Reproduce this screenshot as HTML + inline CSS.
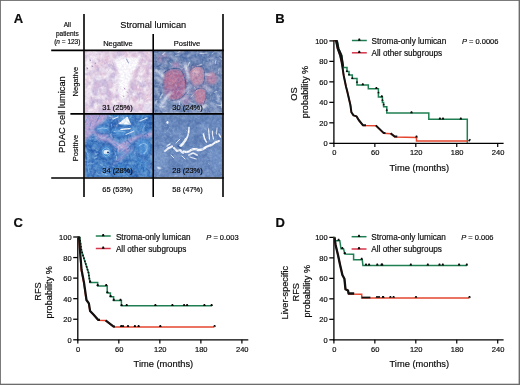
<!DOCTYPE html>
<html lang="en"><head><meta charset="utf-8"><title>Figure</title>
<style>
html,body{margin:0;padding:0;background:#fff;}
body{width:520px;height:385px;overflow:hidden;}
svg{display:block;font-family:'Liberation Sans', Arial, Helvetica, sans-serif;fill:#111;}
svg text{fill:#0c0c0c;stroke:#0c0c0c;stroke-width:0.18px;}
</style></head><body>
<svg width="520" height="385" viewBox="0 0 520 385">
<rect x="0" y="0" width="520" height="385" fill="#fff"/>
<text x="13.8" y="23" font-size="13" text-anchor="start" font-weight="bold" font-style="normal" stroke="#111" stroke-width="0.5">A</text>
<text x="275.3" y="23" font-size="13" text-anchor="start" font-weight="bold" font-style="normal" stroke="#111" stroke-width="0.5">B</text>
<text x="13.6" y="226.7" font-size="13" text-anchor="start" font-weight="bold" font-style="normal" stroke="#111" stroke-width="0.5">C</text>
<text x="275.4" y="226.7" font-size="13" text-anchor="start" font-weight="bold" font-style="normal" stroke="#111" stroke-width="0.5">D</text>
<defs>
<filter id="bl1" x="-30%" y="-30%" width="160%" height="160%"><feGaussianBlur stdDeviation="1.5"/></filter>
<filter id="bl2" x="-30%" y="-30%" width="160%" height="160%"><feGaussianBlur stdDeviation="0.8"/></filter>
<filter id="bl3" x="-30%" y="-30%" width="160%" height="160%"><feGaussianBlur stdDeviation="0.45"/></filter>
<filter id="gr1" x="0" y="0" width="100%" height="100%" color-interpolation-filters="sRGB">
<feTurbulence type="fractalNoise" baseFrequency="0.45" numOctaves="2" seed="7" result="n"/>
<feColorMatrix in="n" type="matrix" values="0 0 0 0 0  0 0 0 0 0  0 0 0 0 0  1.5 0 0 0 -0.55" result="a"/><feComposite in="SourceGraphic" in2="a" operator="in"/>
</filter>
<filter id="gr2" x="0" y="0" width="100%" height="100%" color-interpolation-filters="sRGB">
<feTurbulence type="fractalNoise" baseFrequency="0.4" numOctaves="2" seed="21" result="n"/>
<feColorMatrix in="n" type="matrix" values="0 0 0 0 0  0 0 0 0 0  0 0 0 0 0  0 1.5 0 0 -0.55" result="a"/><feComposite in="SourceGraphic" in2="a" operator="in"/>
</filter>
<filter id="lo1" x="0" y="0" width="100%" height="100%" color-interpolation-filters="sRGB">
<feTurbulence type="fractalNoise" baseFrequency="0.11" numOctaves="2" seed="3" result="n"/>
<feColorMatrix in="n" type="matrix" values="0 0 0 0 0  0 0 0 0 0  0 0 0 0 0  3.2 0 0 0 -1.35" result="a"/><feComposite in="SourceGraphic" in2="a" operator="in"/>
</filter>
<filter id="lo2" x="0" y="0" width="100%" height="100%" color-interpolation-filters="sRGB">
<feTurbulence type="fractalNoise" baseFrequency="0.13" numOctaves="2" seed="17" result="n"/>
<feColorMatrix in="n" type="matrix" values="0 0 0 0 0  0 0 0 0 0  0 0 0 0 0  0 3.2 0 0 -1.35" result="a"/><feComposite in="SourceGraphic" in2="a" operator="in"/>
</filter>
<filter id="lo3" x="0" y="0" width="100%" height="100%" color-interpolation-filters="sRGB">
<feTurbulence type="fractalNoise" baseFrequency="0.16" numOctaves="2" seed="29" result="n"/>
<feColorMatrix in="n" type="matrix" values="0 0 0 0 0  0 0 0 0 0  0 0 0 0 0  0 0 3.4 0 -1.45" result="a"/><feComposite in="SourceGraphic" in2="a" operator="in"/>
</filter>
<clipPath id="c1"><rect x="84.6" y="51" width="68.2" height="61.8"/></clipPath>
<clipPath id="c2"><rect x="153.6" y="51" width="68.8" height="61.8"/></clipPath>
<clipPath id="c3"><rect x="84.6" y="114" width="68.2" height="63.3"/></clipPath>
<clipPath id="c4"><rect x="153.6" y="114" width="68.8" height="63.3"/></clipPath>
</defs>
<g clip-path="url(#c1)">
<rect x="84" y="50" width="70" height="64" fill="#e3d3e6"/>
<ellipse cx="101" cy="91" rx="11" ry="14" fill="#d2c2e0" filter="url(#bl1)" opacity="1"/>
<ellipse cx="142" cy="98" rx="9" ry="14" fill="#e8d0e2" filter="url(#bl1)" opacity="1"/>
<ellipse cx="147" cy="68" rx="5" ry="13" fill="#e4cce0" filter="url(#bl1)" opacity="1"/>
<ellipse cx="106" cy="60" rx="10" ry="4" fill="#e6cce0" filter="url(#bl1)" opacity="1"/>
<ellipse cx="112" cy="107" rx="18" ry="4" fill="#dccbe2" filter="url(#bl1)" opacity="1"/>
<rect x="84" y="50" width="70" height="64" fill="#bba8d6" filter="url(#lo1)" opacity="0.75"/>
<rect x="84" y="50" width="70" height="64" fill="#eebcd4" filter="url(#lo2)" opacity="0.42"/>
<rect x="84" y="50" width="70" height="64" fill="#ffffff" filter="url(#lo3)" opacity="0.7"/>
<g fill="none" stroke-linecap="round" opacity="0.5" filter="url(#bl3)">
<path d="M115.7 85.8Q113.3 87.6 112.4 87.9M128.4 88.1Q127.3 88.9 127.8 91.9M107.5 100.4Q107.8 102.0 108.1 102.9M143.2 107.6Q142.8 110.3 143.9 113.0M140.2 80.9Q142.5 83.1 142.3 85.4M109.4 58.9Q108.8 61.8 108.6 63.3M138.9 90.0Q138.9 91.8 138.6 93.1M149.6 98.0Q146.2 98.3 145.3 100.5" stroke="#ffffff" stroke-width="1.00"/>
<path d="M117.3 89.3Q117.7 92.0 118.0 93.0M93.2 91.2Q93.2 94.0 94.2 94.7M118.4 83.3Q115.8 85.4 113.3 86.4M88.2 61.3Q87.6 64.4 87.7 65.5M130.6 62.7Q129.7 65.5 129.5 67.8M121.5 91.0Q121.8 91.8 121.2 93.3M150.3 82.0Q148.9 83.2 147.9 83.2M119.2 102.4Q119.5 104.7 118.9 105.7M128.7 83.9Q128.1 85.6 125.2 86.7M108.3 61.6Q107.9 63.0 105.7 66.5M126.3 57.4Q125.0 58.2 124.3 60.7M89.7 97.2Q89.1 98.0 87.8 98.5M146.0 80.2Q145.8 81.9 144.0 82.6M85.2 80.8Q83.8 82.1 82.8 83.0M120.1 53.4Q120.1 53.9 118.9 55.8M110.8 56.5Q109.7 56.9 109.5 58.7" stroke="#b9a4d4" stroke-width="0.50"/>
<path d="M121.0 53.8Q120.9 55.4 121.5 56.7M97.7 65.0Q97.9 65.8 97.7 67.0M147.7 94.9Q146.3 95.1 145.9 95.9M151.4 71.9Q153.1 72.6 152.7 75.5M118.8 89.3Q117.2 90.5 116.3 91.0M111.2 78.8Q111.8 82.1 112.0 84.3M128.9 95.9Q129.4 99.7 129.6 101.5M137.8 81.2Q139.8 82.6 139.9 86.0M148.4 83.6Q148.1 86.0 149.5 87.1M112.4 62.5Q113.7 65.2 113.2 66.5M135.1 83.0Q136.5 85.8 136.8 88.1M144.0 69.4Q142.1 70.8 141.4 72.0" stroke="#c4a8d0" stroke-width="0.75"/>
<path d="M122.6 109.6Q122.7 110.3 123.6 112.5M152.6 92.0Q150.1 92.5 150.1 95.5M114.6 74.0Q113.5 76.4 113.8 78.1M121.7 73.7Q120.9 75.5 121.1 76.3M136.7 62.1Q135.3 63.5 137.2 68.1M139.7 97.3Q139.7 98.4 139.3 100.8M138.0 59.3Q136.6 61.1 133.7 62.2M123.5 79.3Q123.6 82.5 126.1 84.7" stroke="#b9a4d4" stroke-width="1.00"/>
<path d="M137.6 75.6Q135.2 76.1 134.9 77.9M147.7 80.1Q146.4 81.5 144.5 81.7M93.6 54.6Q93.6 55.5 92.7 58.0M119.0 50.9Q117.1 51.5 117.0 53.9M106.2 58.7Q103.9 62.8 104.5 63.8M97.3 99.2Q96.2 100.6 97.5 104.3M140.1 86.0Q139.2 89.5 138.6 90.6M107.3 58.7Q106.9 59.8 105.7 63.7M116.7 95.8Q116.2 98.0 116.2 100.5" stroke="#c4a8d0" stroke-width="1.00"/>
<path d="M102.9 55.6Q101.8 57.1 102.5 61.4M127.1 54.7Q126.7 57.4 127.9 60.4M106.1 103.7Q103.9 104.8 102.7 105.4M106.4 108.2Q105.0 109.4 103.8 110.4M122.0 95.1Q121.6 97.8 122.7 99.6M129.0 94.9Q127.4 97.9 124.9 99.2M123.5 81.0Q122.2 83.1 121.6 83.6" stroke="#c4a8d0" stroke-width="0.50"/>
<path d="M88.2 101.0Q87.8 103.7 89.0 105.2M140.2 69.5Q139.3 69.6 137.9 71.1M130.0 70.9Q128.8 72.6 127.3 72.8M84.8 80.2Q85.6 82.6 84.1 85.4M151.7 103.1Q151.4 103.6 150.6 104.8M110.4 57.0Q110.6 58.5 110.3 60.1" stroke="#f4ecf6" stroke-width="1.00"/>
<path d="M153.3 63.6Q153.0 64.9 153.5 68.7M140.0 75.9Q141.1 78.9 140.3 79.8M126.3 94.5Q126.6 96.0 124.7 99.3M126.0 80.2Q124.6 82.6 124.7 83.8M105.8 85.1Q105.3 87.4 102.9 87.7M120.8 60.1Q118.7 60.8 118.3 62.2" stroke="#d9b0cc" stroke-width="0.75"/>
<path d="M98.6 90.7Q98.6 92.5 100.1 93.9M92.1 66.5Q91.7 68.8 91.4 69.7M135.0 90.9Q133.5 93.0 133.1 95.9M103.0 77.2Q101.7 77.7 101.8 79.3M111.3 59.6Q111.2 63.1 112.5 64.9M151.6 91.7Q151.2 91.9 150.0 93.2" stroke="#ffffff" stroke-width="0.75"/>
<path d="M142.3 58.7Q142.8 60.2 141.6 63.1M140.1 74.6Q139.7 75.9 138.6 78.4" stroke="#d9b0cc" stroke-width="0.50"/>
<path d="M97.3 97.3Q96.3 97.9 94.9 98.7M91.3 52.5Q89.8 53.9 88.7 53.9M98.2 60.9Q97.3 61.7 94.3 63.4M141.5 57.2Q141.2 59.9 139.9 62.7M150.6 79.6Q149.5 80.6 148.3 82.0M118.7 89.1Q119.8 92.1 120.8 94.5M131.3 85.2Q129.8 86.4 129.5 88.2M141.8 61.8Q139.6 62.5 139.5 65.4M132.1 67.9Q130.0 72.3 129.9 73.4M101.2 64.1Q99.4 66.4 98.4 67.1M128.8 83.5Q128.5 84.8 125.6 87.6M95.4 90.7Q94.5 91.5 93.4 93.3" stroke="#f4ecf6" stroke-width="0.75"/>
<path d="M89.9 98.0Q90.1 100.5 91.7 102.0M90.8 106.9Q91.0 108.7 91.4 109.2M102.0 75.7Q101.8 76.6 103.0 78.3M85.0 65.7Q86.1 67.3 86.0 68.1M136.9 52.9Q139.2 56.4 138.5 57.9M137.0 113.1Q137.4 114.6 136.8 115.1M102.9 95.9Q104.6 97.9 104.1 99.6" stroke="#f4ecf6" stroke-width="0.50"/>
<path d="M131.5 68.0Q131.6 70.0 131.0 72.6M112.8 57.3Q113.6 58.7 114.3 60.5M133.3 105.1Q132.4 107.7 131.5 108.2M105.1 56.5Q101.7 59.8 100.3 59.9M130.6 71.6Q129.2 74.7 128.3 75.2M147.4 85.2Q146.9 89.1 145.4 90.7M136.1 103.7Q136.5 105.2 137.0 106.0M137.1 106.4Q137.2 107.5 137.2 108.5" stroke="#ffffff" stroke-width="0.50"/>
<path d="M134.0 98.3Q134.0 99.4 133.2 100.3M114.8 106.3Q113.8 107.9 112.7 110.6M126.1 50.8Q124.3 53.8 122.8 55.1M140.3 66.5Q137.2 67.4 136.2 69.3M89.3 88.2Q88.6 88.6 87.9 89.8M87.5 113.3Q86.8 113.5 85.5 114.4M121.2 113.8Q117.9 116.2 116.9 116.3M107.9 85.0Q105.2 87.0 104.5 87.0" stroke="#b9a4d4" stroke-width="0.75"/>
<path d="M85.6 62.4Q85.4 65.1 86.1 67.1M91.3 96.8Q91.2 98.8 92.4 100.7M147.8 112.0Q149.6 114.7 148.9 115.8M97.3 57.4Q96.9 58.0 97.8 59.9M109.6 68.3Q109.0 69.5 107.3 71.8" stroke="#d9b0cc" stroke-width="1.00"/>
</g>
<path d="M115 60 L139 58 L137 66 L131 72 L128 84 L125 98 L121 100 L119 88 L120 74 Z" fill="#ffffff" stroke="#ffffff" stroke-width="2.0" stroke-linecap="round" stroke-linejoin="round" filter="url(#bl2)" opacity="1"/>
<ellipse cx="126" cy="103" rx="2.5" ry="2.5" fill="#f6eef6" filter="url(#bl2)" opacity="1"/>
<ellipse cx="89" cy="64" rx="3.5" ry="7" fill="#fbf5fa" filter="url(#bl2)" opacity="1"/>
<ellipse cx="93" cy="57" rx="5" ry="2.2" fill="#f7eef7" filter="url(#bl2)" opacity="1"/>
<ellipse cx="87.5" cy="96" rx="2.2" ry="9" fill="#f0e6f3" filter="url(#bl2)" opacity="1"/>
<ellipse cx="148" cy="108" rx="5" ry="4" fill="#e6e0f2" filter="url(#bl1)" opacity="1"/>
<path d="M131 88 L136 75 L141 60" fill="none" stroke="#c79ec4" stroke-width="1.0" stroke-linecap="round" stroke-linejoin="round" filter="url(#bl2)" opacity="1"/>
<path d="M137 97 L133 105" fill="none" stroke="#cda6c8" stroke-width="1.0" stroke-linecap="round" stroke-linejoin="round" filter="url(#bl2)" opacity="1"/>
<path d="M126.5 59 L128.5 63" fill="none" stroke="#7f98bc" stroke-width="1.0" stroke-linecap="round" stroke-linejoin="round" filter="url(#bl3)" opacity="1"/>
<path d="M90 60 L90.5 60.5 M92 66 L92.6 66.4 M87 68 L87.5 68.5 M95 63 L95.5 63.3" fill="none" stroke="#9a86b4" stroke-width="1.2" stroke-linecap="round" stroke-linejoin="round" filter="url(#bl3)" opacity="1"/>
<path d="M124 88 L125 89 M127 92 L128 92.5 M123 96 L124 96.5" fill="none" stroke="#b08ab8" stroke-width="0.9" stroke-linecap="round" stroke-linejoin="round" filter="url(#bl3)" opacity="1"/>
<rect x="84" y="50" width="70" height="64" fill="#a58cc0" filter="url(#gr1)" opacity="0.35"/>
<rect x="84" y="50" width="70" height="64" fill="#ffffff" filter="url(#gr2)" opacity="0.3"/>
</g>
<g clip-path="url(#c2)">
<rect x="153" y="50" width="70" height="64" fill="#6e86b2"/>
<ellipse cx="195" cy="57" rx="16" ry="5" fill="#5a78ae" filter="url(#bl1)" opacity="1"/>
<ellipse cx="217" cy="98" rx="7" ry="12" fill="#6884b6" filter="url(#bl1)" opacity="1"/>
<ellipse cx="160" cy="104" rx="7" ry="8" fill="#8ea2c8" filter="url(#bl1)" opacity="1"/>
<ellipse cx="215" cy="60" rx="7" ry="6" fill="#7088b8" filter="url(#bl1)" opacity="1"/>
<ellipse cx="163" cy="58" rx="6" ry="4" fill="#a888b4" filter="url(#bl1)" opacity="1"/>
<ellipse cx="188" cy="84" rx="22" ry="17" fill="#8f82b0" filter="url(#bl1)" opacity="0.7"/>
<rect x="153" y="50" width="70" height="64" fill="#40609a" filter="url(#lo1)" opacity="0.75"/>
<rect x="153" y="50" width="70" height="64" fill="#a2aed0" filter="url(#lo2)" opacity="0.6"/>
<g fill="none" stroke-linecap="round" opacity="0.6" filter="url(#bl3)">
<path d="M186.2 92.1Q187.4 93.0 188.6 93.4M221.3 106.7Q223.9 107.5 225.8 107.5M177.9 73.2Q179.3 74.3 182.4 76.3M154.2 95.4Q155.2 99.3 156.0 101.2M176.9 65.3Q179.2 64.9 182.6 61.8M201.2 68.9Q202.0 69.0 203.9 69.1M206.3 51.1Q207.2 53.5 210.5 56.0M199.1 100.9Q200.6 100.8 202.9 99.4M215.1 105.6Q219.3 108.3 220.2 108.2M184.9 70.9Q185.6 70.0 186.5 68.1M175.7 87.6Q177.0 85.5 177.3 84.8M198.6 95.3Q198.1 94.5 198.9 91.5M160.2 110.7Q161.4 111.9 162.3 113.3M179.9 61.3Q181.2 58.5 181.2 54.6M161.8 52.4Q162.5 51.6 163.8 51.8M187.3 113.6Q188.2 114.3 189.4 114.3M204.1 109.5Q206.9 111.4 209.2 111.3M176.7 82.5Q179.8 80.8 181.2 79.6M187.5 88.3Q187.2 91.6 187.5 92.5M182.4 75.7Q183.4 76.9 187.1 78.0M154.7 60.9Q155.7 60.6 157.1 61.7M204.4 70.0Q204.1 71.6 205.6 74.9M172.0 75.2Q172.1 73.4 173.9 71.2M198.3 95.2Q201.8 96.2 203.0 95.4M163.7 67.5Q164.7 69.3 166.0 71.5M209.4 111.0Q209.2 113.4 211.9 117.4" stroke="#3f5c98" stroke-width="0.85"/>
<path d="M185.2 105.3Q186.4 104.4 186.5 103.8M182.9 74.8Q183.2 76.1 184.6 76.7M169.3 62.6Q171.6 65.1 174.0 64.7M155.4 85.0Q158.8 84.8 159.8 84.2M168.4 76.1Q171.0 79.0 171.8 80.7M179.0 69.5Q181.7 69.2 184.9 66.7M174.6 107.2Q176.8 107.1 179.3 109.0M186.5 107.7Q189.3 107.6 191.4 105.3M199.9 87.8Q201.3 85.8 204.7 82.9M169.7 100.1Q171.5 96.9 170.9 94.9M187.9 93.8Q188.1 91.6 188.7 90.9M218.0 98.4Q219.4 99.2 220.2 99.2" stroke="#ffffff" stroke-width="0.50"/>
<path d="M176.8 63.5Q178.8 64.1 179.7 64.2M188.1 65.8Q188.0 65.0 189.5 62.3M214.7 92.8Q215.7 92.2 216.7 91.1M179.1 107.6Q179.7 106.4 179.5 101.7M221.3 59.0Q222.0 59.5 223.8 59.9M177.9 52.6Q182.0 50.0 183.1 48.9M216.9 104.9Q219.3 106.2 223.9 104.0M220.9 100.8Q221.6 104.1 221.5 107.2M197.2 66.0Q199.9 65.0 201.6 64.4M153.7 111.5Q154.4 114.0 155.1 115.5M160.0 98.3Q161.2 95.1 162.6 94.0M215.7 63.2Q215.3 62.0 215.8 60.8M200.1 53.2Q202.3 53.9 206.4 52.8M185.6 69.7Q186.5 68.6 186.8 66.4M172.7 74.1Q172.4 74.7 173.9 77.2M162.1 54.3Q163.7 54.2 164.9 52.6" stroke="#ffffff" stroke-width="1.20"/>
<path d="M208.9 55.6Q208.6 60.3 210.4 61.5M155.6 67.7Q157.7 65.6 160.2 65.3M179.6 56.3Q181.2 55.8 182.8 54.7M208.4 83.4Q209.6 82.9 210.7 82.9M201.1 86.1Q202.9 90.5 202.4 91.6M175.1 65.5Q177.1 62.6 176.5 60.6M180.8 83.0Q181.3 83.2 182.9 84.1M169.7 83.7Q171.8 85.7 173.2 86.6M213.8 91.6Q214.6 90.0 217.0 90.2M215.8 72.6Q214.6 75.5 216.1 78.8M202.5 63.1Q202.4 59.6 205.0 56.8M159.0 50.5Q162.6 49.6 163.3 45.4M216.1 57.9Q218.3 57.9 220.8 56.1M200.6 101.7Q201.6 100.9 202.9 99.8M217.1 64.3Q217.1 65.8 218.2 69.0M186.1 109.4Q189.5 113.5 190.1 114.1M215.9 108.1Q217.7 107.5 219.2 106.6M216.9 75.0Q218.3 75.6 223.1 74.9M190.4 68.9Q191.8 66.7 191.7 65.4M173.6 80.5Q172.9 77.0 175.4 75.4M207.3 81.8Q208.2 81.4 209.8 80.9" stroke="#3f5c98" stroke-width="1.20"/>
<path d="M182.7 78.4Q187.2 80.3 188.7 81.7M160.2 104.0Q162.4 106.8 163.0 107.8M191.2 108.3Q194.3 109.1 197.1 107.4M210.2 77.3Q211.3 78.5 213.3 79.9" stroke="#ffffff" stroke-width="0.85"/>
<path d="M185.9 89.0Q189.9 89.8 191.0 89.7M201.0 59.1Q202.0 57.7 202.0 55.7M195.5 103.9Q196.7 102.9 198.5 100.9M207.0 105.0Q209.8 101.4 212.2 101.4M162.1 54.0Q163.1 52.2 162.9 51.7M173.9 109.1Q175.5 109.9 179.0 110.8M199.6 78.2Q201.6 77.3 202.5 75.8M190.4 75.0Q191.8 73.6 192.9 73.5M181.3 103.9Q180.8 105.2 181.5 106.0M180.5 94.6Q183.3 94.7 185.3 97.1M222.3 104.1Q223.3 104.8 227.0 103.4M191.2 90.2Q192.0 92.6 192.8 93.5M196.9 79.2Q199.8 81.2 201.7 81.8M153.8 105.9Q156.5 108.6 159.5 107.8M165.2 80.3Q167.0 82.2 170.1 82.1M162.8 69.4Q166.2 70.9 167.2 70.6M213.6 104.0Q214.7 105.7 217.4 106.4M160.6 95.1Q159.5 92.8 160.7 90.8M156.6 95.7Q157.3 96.5 158.0 97.4M222.8 94.6Q225.2 94.6 227.2 91.8M218.1 64.5Q221.0 62.3 223.6 62.4M201.1 59.2Q203.0 57.9 203.8 57.9" stroke="#3f5c98" stroke-width="0.50"/>
<path d="M188.8 101.8Q189.9 101.5 190.9 101.8M200.8 94.4Q201.1 91.2 203.4 88.5M209.7 113.3Q210.5 114.7 212.1 114.8M210.3 93.5Q211.8 95.8 210.4 99.4M156.6 111.4Q158.7 114.3 158.5 116.3M186.0 78.6Q186.1 77.5 187.4 76.0M154.4 71.5Q154.9 70.9 156.5 69.3M182.9 64.3Q184.1 65.4 186.8 65.5M177.1 113.0Q178.3 114.4 182.6 113.0M170.2 111.6Q172.9 107.6 174.2 106.2M175.9 99.3Q176.5 99.4 178.5 99.9M156.0 69.5Q155.5 72.1 157.1 74.3" stroke="#dfe6f4" stroke-width="0.50"/>
<path d="M172.7 80.5Q174.1 82.3 173.3 84.8M187.5 110.2Q187.6 111.0 189.1 112.6M154.5 108.3Q155.5 106.0 158.6 106.4M215.5 51.8Q216.3 52.6 216.5 53.7M186.7 94.2Q188.9 95.3 191.5 94.5M188.9 69.7Q189.9 69.0 189.7 66.8M217.5 103.8Q218.1 103.4 219.9 104.0M158.1 59.4Q159.6 58.4 160.8 55.1M191.5 89.0Q195.2 88.3 196.8 87.9M198.3 78.5Q200.7 78.2 202.3 76.4M184.3 50.6Q184.1 48.4 185.2 47.5M155.3 103.8Q156.6 107.1 157.0 109.2" stroke="#5074aa" stroke-width="0.85"/>
<path d="M166.2 97.9Q166.1 99.2 166.8 99.9M209.1 58.6Q210.9 58.9 213.2 58.5M175.6 73.5Q177.9 72.6 181.5 70.5M185.1 110.0Q187.7 109.9 189.2 108.5M177.9 69.6Q178.8 65.6 178.4 63.2M159.8 94.9Q162.8 99.2 162.9 99.9M160.4 67.5Q162.9 67.4 165.7 71.2M158.5 71.1Q159.3 70.1 161.9 69.8M196.6 55.8Q196.2 53.5 198.0 50.2M203.4 71.6Q205.2 70.3 205.2 66.2M174.5 90.3Q176.0 87.8 178.4 85.8M174.0 104.4Q175.6 106.3 177.1 107.4M180.3 107.3Q181.8 105.1 182.8 104.1" stroke="#aabcdc" stroke-width="0.85"/>
<path d="M171.4 110.6Q172.5 111.5 172.3 113.2M216.1 100.5Q218.4 101.1 219.7 101.4M161.9 75.1Q164.3 75.8 165.3 75.0M197.5 89.7Q198.0 88.6 198.2 86.0M216.5 50.5Q217.0 51.3 218.5 52.3M155.0 53.7Q155.6 53.4 158.2 53.8M222.5 112.7Q223.4 112.5 227.3 109.6M217.5 95.6Q219.0 97.5 218.5 98.9M206.2 92.4Q206.4 91.4 206.2 89.6M184.0 98.4Q186.2 98.2 187.1 99.9" stroke="#aabcdc" stroke-width="1.20"/>
<path d="M219.1 83.0Q220.6 83.8 223.6 86.2M222.8 71.1Q224.7 70.4 227.1 71.2M218.2 83.8Q218.9 82.8 220.9 82.6M210.8 92.8Q212.8 94.2 216.9 92.7M187.9 77.4Q188.6 74.5 190.9 74.2M213.7 84.3Q215.7 83.8 216.4 84.7M187.2 79.1Q187.8 79.8 191.2 83.9M157.5 98.1Q157.7 96.4 158.2 95.2M209.4 52.5Q213.0 52.9 214.5 52.3M171.2 95.9Q172.5 92.9 172.3 89.5M212.5 53.1Q213.3 53.7 213.8 55.1M167.0 60.3Q168.1 61.7 168.8 63.4M204.8 61.5Q207.7 61.2 211.5 61.7M220.3 73.8Q222.9 75.4 224.1 79.4" stroke="#5074aa" stroke-width="1.20"/>
<path d="M221.6 85.8Q224.3 87.4 227.7 88.4M167.4 111.1Q168.1 112.6 168.2 114.8M214.0 70.2Q214.9 71.5 214.5 72.4M221.8 89.5Q220.2 87.5 222.0 83.2M207.2 59.4Q209.0 62.1 210.8 64.0M178.7 60.3Q178.9 62.7 179.2 65.4M170.7 70.7Q173.7 71.8 176.6 70.6" stroke="#aabcdc" stroke-width="0.50"/>
<path d="M161.7 84.2Q163.1 84.9 164.9 86.5M172.8 102.0Q173.6 102.6 175.9 106.0M209.7 62.5Q212.5 60.2 213.2 57.6M163.0 79.0Q165.1 79.3 166.2 79.3M220.4 108.5Q222.9 108.6 225.1 110.9M175.1 75.1Q178.4 73.3 179.7 72.0M172.6 85.7Q174.6 86.0 175.1 87.4M214.1 105.3Q216.7 105.1 218.7 105.7M185.9 105.6Q188.3 105.9 189.7 106.4M153.8 85.8Q154.5 82.6 154.7 81.2M162.1 59.2Q164.5 57.6 166.1 56.6M188.2 81.6Q192.7 81.1 194.3 82.3M179.1 94.5Q181.5 93.5 183.0 94.2" stroke="#5074aa" stroke-width="0.50"/>
<path d="M218.4 73.4Q217.8 71.6 218.8 69.0M194.5 87.6Q195.8 89.8 197.5 91.8M204.2 102.9Q205.1 105.1 206.7 105.5M165.1 85.1Q166.9 85.4 169.8 86.5M212.3 53.7Q216.5 49.9 217.9 49.6M185.6 112.2Q187.5 110.2 189.1 106.3M218.3 94.5Q219.0 95.0 219.6 96.6M190.9 97.2Q192.2 95.4 193.4 94.6M219.8 57.8Q221.4 58.3 224.3 62.5M206.7 51.5Q206.8 52.5 206.8 53.5M185.5 90.3Q187.0 91.2 188.2 93.9M161.8 113.5Q165.8 111.8 168.0 112.6M176.9 50.3Q179.0 47.8 178.9 45.6" stroke="#dfe6f4" stroke-width="0.85"/>
<path d="M176.0 113.2Q177.6 113.7 179.8 115.7M155.9 103.2Q155.9 101.0 157.1 100.4M160.0 106.9Q162.0 106.7 165.2 106.4M175.7 55.5Q176.2 55.3 178.3 55.0M189.8 101.9Q194.1 104.8 195.4 104.2" stroke="#dfe6f4" stroke-width="1.20"/>
</g>
<path d="M164 78 Q166 69 175 70 Q184 71 185.5 80 Q187 91 182 97 Q176 101 170 98 Q164 93 164 78 Z" fill="#b06e96" stroke="#a86a94" stroke-width="1.5" stroke-linecap="round" stroke-linejoin="round" filter="url(#bl2)" opacity="1"/>
<ellipse cx="172" cy="80" rx="4.5" ry="5" fill="#c07698" filter="url(#bl2)" opacity="1"/>
<ellipse cx="178" cy="91" rx="4.5" ry="5" fill="#a8689a" filter="url(#bl2)" opacity="1"/>
<ellipse cx="168" cy="92" rx="3" ry="4" fill="#9870a4" filter="url(#bl2)" opacity="1"/>
<path d="M190 72 Q193 65 200 67 Q205 71 204 79 Q201 85.5 195 84.5 Q189 80 190 72 Z" fill="#c48ca8" stroke="#bb88a6" stroke-width="1.2" stroke-linecap="round" stroke-linejoin="round" filter="url(#bl2)" opacity="1"/>
<ellipse cx="196" cy="72" rx="3" ry="3" fill="#dcb4c4" filter="url(#bl2)" opacity="1"/>
<path d="M207 75 Q210 71 215 74 Q218 79 215 83.5 Q209 85 207 80 Z" fill="#b884a8" stroke="#b084a8" stroke-width="1.2" stroke-linecap="round" stroke-linejoin="round" filter="url(#bl2)" opacity="1"/>
<path d="M195 92 Q199 86.5 204.5 90 Q207 97 204 103.5 Q198 105.5 195.5 99 Z" fill="#c482a0" stroke="#bc80a0" stroke-width="1.2" stroke-linecap="round" stroke-linejoin="round" filter="url(#bl2)" opacity="1"/>
<ellipse cx="186" cy="101" rx="4" ry="4" fill="#9c86b6" filter="url(#bl2)" opacity="1"/>
<ellipse cx="176" cy="65" rx="4" ry="3" fill="#a088b6" filter="url(#bl2)" opacity="1"/>
<g fill="none" stroke-linecap="round" opacity="0.55" filter="url(#bl3)">
<path d="M168.3 91.4Q169.2 91.6 171.3 93.4M167.3 93.4Q167.5 91.9 168.4 90.8" stroke="#94508a" stroke-width="0.90"/>
<path d="M184.5 88.3Q185.0 87.6 184.6 86.1" stroke="#94508a" stroke-width="0.50"/>
<path d="M184.8 83.5Q185.6 84.4 186.8 85.6M176.5 93.9Q176.6 91.9 177.8 91.0M176.6 85.7Q176.1 83.7 176.9 83.2M169.4 74.8Q170.1 75.4 171.1 75.3" stroke="#d498b0" stroke-width="0.90"/>
<path d="M175.6 74.1Q177.3 74.0 178.6 73.7M173.1 89.2Q173.6 89.1 174.5 89.0M174.5 86.2Q175.0 85.0 176.4 85.1" stroke="#d498b0" stroke-width="0.50"/>
<path d="M180.5 81.8Q182.5 81.2 182.9 79.5" stroke="#7c549a" stroke-width="0.70"/>
<path d="M171.5 92.7Q172.8 90.2 173.1 89.1" stroke="#7c549a" stroke-width="0.50"/>
<path d="M178.3 87.2Q179.2 87.3 180.6 87.9" stroke="#7c549a" stroke-width="0.90"/>
<path d="M175.5 83.0Q176.4 84.1 177.4 84.1M169.6 88.1Q170.5 87.5 171.5 86.7M177.3 81.4Q177.9 81.4 179.3 80.4" stroke="#94508a" stroke-width="0.70"/>
<path d="M168.2 87.5Q168.8 86.9 170.1 86.6" stroke="#d498b0" stroke-width="0.70"/>
</g>
<g fill="none" stroke-linecap="round" opacity="0.5" filter="url(#bl3)">
<path d="M196.6 74.7Q198.1 75.6 198.9 76.9M192.4 78.2Q192.8 77.7 193.0 76.2M202.5 92.8Q203.7 93.1 205.1 93.1M200.8 78.6Q202.3 78.3 204.6 79.4" stroke="#d69ab0" stroke-width="0.70"/>
<path d="M199.0 74.9Q200.0 76.5 200.8 77.5M201.0 96.5Q200.6 95.7 202.0 93.1" stroke="#94508a" stroke-width="0.50"/>
<path d="M199.2 100.3Q199.8 101.5 201.1 102.2" stroke="#7c549a" stroke-width="0.50"/>
<path d="M202.6 75.8Q203.0 74.7 203.9 74.6" stroke="#94508a" stroke-width="0.70"/>
<path d="M196.2 80.3Q196.3 79.2 196.4 78.0" stroke="#94508a" stroke-width="0.90"/>
<path d="M194.1 72.7Q194.4 73.9 196.1 74.0" stroke="#7c549a" stroke-width="0.70"/>
<path d="M195.9 80.3Q196.7 80.9 199.6 80.9" stroke="#d69ab0" stroke-width="0.90"/>
</g>
<path d="M163.5 73 Q170 66.5 180 69 Q187 77 186 92 Q182 101 172 100.5" fill="none" stroke="#34508e" stroke-width="1.0" stroke-linecap="round" stroke-linejoin="round" filter="url(#bl3)" opacity="0.8"/>
<path d="M189.5 71 Q195 64 203 67 Q206.5 76 203 85" fill="none" stroke="#34508e" stroke-width="0.9" stroke-linecap="round" stroke-linejoin="round" filter="url(#bl3)" opacity="0.75"/>
<path d="M194.5 91 Q200 85.5 206 90 Q207.5 98 203.5 105" fill="none" stroke="#34508e" stroke-width="0.9" stroke-linecap="round" stroke-linejoin="round" filter="url(#bl3)" opacity="0.75"/>
<path d="M155.5 70 L160 72.5 L163 77" fill="none" stroke="#ffffff" stroke-width="1.9" stroke-linecap="round" stroke-linejoin="round" filter="url(#bl2)" opacity="1"/>
<path d="M157 78 L162 82" fill="none" stroke="#f4f4fb" stroke-width="1.5" stroke-linecap="round" stroke-linejoin="round" filter="url(#bl2)" opacity="1"/>
<path d="M185.5 66 L187 72 L189 79" fill="none" stroke="#f8f4fc" stroke-width="1.9" stroke-linecap="round" stroke-linejoin="round" filter="url(#bl2)" opacity="1"/>
<path d="M161 105 L166 98 L171 92.5" fill="none" stroke="#f2f3fb" stroke-width="2.0" stroke-linecap="round" stroke-linejoin="round" filter="url(#bl2)" opacity="1"/>
<path d="M174 102 L181 101 L186 97" fill="none" stroke="#f0f0fa" stroke-width="1.5" stroke-linecap="round" stroke-linejoin="round" filter="url(#bl2)" opacity="1"/>
<path d="M183 93 L190 86" fill="none" stroke="#eaeaf8" stroke-width="1.4" stroke-linecap="round" stroke-linejoin="round" filter="url(#bl2)" opacity="1"/>
<path d="M205 74 L211 75.5" fill="none" stroke="#f6f6fc" stroke-width="1.4" stroke-linecap="round" stroke-linejoin="round" filter="url(#bl2)" opacity="1"/>
<path d="M204 87 L213 91" fill="none" stroke="#e8e8f6" stroke-width="1.2" stroke-linecap="round" stroke-linejoin="round" filter="url(#bl2)" opacity="1"/>
<path d="M198 109.5 L206 105.5" fill="none" stroke="#fcfcfe" stroke-width="2.1" stroke-linecap="round" stroke-linejoin="round" filter="url(#bl2)" opacity="1"/>
<path d="M210 103 L217 108" fill="none" stroke="#e2e6f4" stroke-width="1.2" stroke-linecap="round" stroke-linejoin="round" filter="url(#bl2)" opacity="1"/>
<path d="M170 56 L178 60" fill="none" stroke="#e2e6f4" stroke-width="1.1" stroke-linecap="round" stroke-linejoin="round" filter="url(#bl2)" opacity="1"/>
<path d="M186 57 L192 54" fill="none" stroke="#dfe4f4" stroke-width="1.0" stroke-linecap="round" stroke-linejoin="round" filter="url(#bl2)" opacity="1"/>
<path d="M214 66 L220 70" fill="none" stroke="#dfe4f4" stroke-width="1.0" stroke-linecap="round" stroke-linejoin="round" filter="url(#bl2)" opacity="1"/>
<path d="M156 88 L159 95" fill="none" stroke="#e8eaf8" stroke-width="1.3" stroke-linecap="round" stroke-linejoin="round" filter="url(#bl2)" opacity="1"/>
<path d="M216 92 L219 100" fill="none" stroke="#dde2f2" stroke-width="1.0" stroke-linecap="round" stroke-linejoin="round" filter="url(#bl2)" opacity="1"/>
<rect x="153" y="50" width="70" height="64" fill="#3f5fa0" filter="url(#gr1)" opacity="0.4"/>
<rect x="153" y="50" width="70" height="64" fill="#e4e8f6" filter="url(#gr2)" opacity="0.4"/>
</g>
<g clip-path="url(#c3)">
<rect x="84" y="113" width="70" height="65" fill="#4580c6"/>
<rect x="84" y="113" width="70" height="65" fill="#2458ac" filter="url(#lo1)" opacity="0.8"/>
<rect x="84" y="113" width="70" height="65" fill="#80b6e4" filter="url(#lo2)" opacity="0.55"/>
<path d="M84 114 L108 114 L96 128 L84 140 Z" fill="#c2a4d4" stroke="#c2a4d4" stroke-width="3" stroke-linecap="round" stroke-linejoin="round" filter="url(#bl1)" opacity="0.95"/>
<ellipse cx="100" cy="134" rx="5" ry="8" fill="#b49cd2" filter="url(#bl1)" opacity="0.9" transform="rotate(-40 100 134)"/>
<path d="M92 126 L106 138 L118 146 L130 149" fill="none" stroke="#bca2d6" stroke-width="5" stroke-linecap="round" stroke-linejoin="round" filter="url(#bl1)" opacity="0.95"/>
<path d="M120 147 L134 139 L152 134" fill="none" stroke="#c4a8d8" stroke-width="4.5" stroke-linecap="round" stroke-linejoin="round" filter="url(#bl1)" opacity="0.95"/>
<path d="M128 150 L121 158 L114 166" fill="none" stroke="#b49cd4" stroke-width="3.2" stroke-linecap="round" stroke-linejoin="round" filter="url(#bl1)" opacity="0.9"/>
<path d="M140 152 L150 168" fill="none" stroke="#a494ce" stroke-width="2.2" stroke-linecap="round" stroke-linejoin="round" filter="url(#bl1)" opacity="0.8"/>
<ellipse cx="120" cy="168" rx="8" ry="6" fill="#3c82cc" filter="url(#bl1)" opacity="0.8"/>
<ellipse cx="141" cy="164" rx="8" ry="8" fill="#4488ce" filter="url(#bl1)" opacity="0.8"/>
<ellipse cx="106" cy="152" rx="7" ry="7" fill="#3a84cc" filter="url(#bl1)" opacity="0.8"/>
<g fill="none" stroke-linecap="round" opacity="0.6" filter="url(#bl3)">
<path d="M151.6 113.8Q151.9 115.2 153.6 115.6M150.9 144.3Q152.0 144.3 153.5 144.4M130.8 161.1Q134.0 164.1 134.6 164.5M84.6 162.0Q87.6 164.8 89.3 166.6M146.9 163.9Q146.2 162.6 147.4 157.6M89.3 129.5Q90.3 124.2 91.0 122.8M103.4 161.3Q107.2 161.1 108.4 162.3M142.8 134.2Q143.3 136.3 142.9 137.3M122.4 154.3Q124.0 153.9 126.8 153.7M119.4 171.0Q120.1 170.9 122.0 171.4M151.3 125.3Q154.5 126.6 156.8 129.1M96.0 132.3Q97.6 133.7 97.7 135.3" stroke="#2a66b8" stroke-width="0.50"/>
<path d="M94.3 158.2Q95.3 157.5 96.7 157.1M113.4 150.5Q115.3 152.3 115.6 154.4M109.1 115.8Q111.9 116.0 113.2 119.4M90.7 163.8Q91.6 164.0 93.6 163.2M153.9 146.8Q155.3 144.6 155.3 142.6M118.0 144.3Q119.1 146.2 122.1 148.0M116.2 159.3Q117.1 157.6 116.2 156.1M119.2 129.6Q119.6 134.0 120.9 135.5M100.2 164.3Q101.1 165.0 102.3 165.2M111.0 133.3Q115.1 134.2 116.3 134.8M102.4 172.5Q104.5 174.6 106.6 174.6" stroke="#b6daf4" stroke-width="1.20"/>
<path d="M108.1 173.8Q108.8 172.8 110.4 170.8M146.0 157.7Q147.6 156.2 149.6 154.5M87.1 138.3Q88.9 138.7 92.8 140.2M128.3 130.8Q128.1 128.7 130.5 127.1M130.4 176.2Q131.7 176.4 133.9 174.3M106.9 175.3Q109.3 176.8 111.7 176.1M111.4 148.5Q111.8 147.5 111.9 145.7M104.9 167.8Q106.3 169.9 107.1 173.2M95.2 161.2Q96.7 160.6 97.2 160.6M100.5 151.0Q100.7 149.3 100.6 146.4" stroke="#7fb8e6" stroke-width="0.50"/>
<path d="M106.1 158.1Q108.9 159.2 111.9 157.2M117.7 176.5Q117.9 175.3 118.0 174.2M92.5 173.3Q94.0 173.6 94.9 173.9M145.5 116.5Q146.2 119.4 147.4 120.2M85.5 142.8Q88.8 145.4 88.8 148.5M103.0 117.2Q105.0 118.9 105.6 119.2M85.0 157.5Q84.6 158.7 86.0 161.8M142.4 143.8Q144.1 143.5 144.6 144.1M151.9 176.8Q152.7 175.6 153.5 174.5M96.2 138.4Q97.2 140.4 99.3 141.2M128.9 149.5Q131.4 151.4 132.0 151.2M93.2 157.2Q93.9 155.5 94.9 151.3" stroke="#c8b0dc" stroke-width="0.50"/>
<path d="M85.3 122.1Q85.1 119.4 88.8 116.4M128.9 145.9Q129.1 150.8 130.1 152.7M103.1 177.9Q104.9 173.1 104.4 171.5M127.1 165.9Q128.6 168.0 130.6 168.5M86.7 168.1Q89.1 166.8 89.7 166.3M143.0 123.4Q144.3 124.0 144.5 126.3M87.2 145.8Q88.2 147.2 89.2 148.5M139.5 142.1Q140.1 143.0 140.3 144.6M114.7 115.8Q115.2 114.6 117.3 110.3M146.4 175.3Q148.1 173.2 148.7 171.7M112.6 171.2Q112.1 169.5 114.1 166.7M114.3 116.8Q115.4 117.4 116.4 117.6M110.3 133.4Q111.9 129.7 113.7 128.7" stroke="#5aa0dc" stroke-width="1.20"/>
<path d="M94.6 168.6Q95.8 171.5 95.9 172.4M104.7 173.0Q105.1 170.7 107.9 169.5M151.7 119.0Q151.3 116.9 152.6 114.8M147.6 113.2Q148.7 110.9 150.8 110.0M91.2 136.9Q91.8 135.2 92.6 134.7M139.8 154.7Q141.5 155.2 141.7 156.7M140.5 170.8Q140.8 169.2 141.8 167.7M149.5 148.0Q151.0 143.8 152.3 142.4M149.4 142.2Q150.5 143.3 152.4 145.5M96.9 121.3Q97.6 119.7 99.7 115.4M110.9 127.3Q112.6 125.8 117.7 127.3M132.6 177.0Q133.3 178.0 133.4 179.1M86.5 170.3Q86.1 169.2 88.0 165.3M98.1 165.6Q99.6 164.9 100.0 163.2M135.5 178.0Q137.3 179.1 138.7 178.8M126.4 171.7Q129.2 174.8 131.0 175.1M101.4 133.3Q101.8 133.5 103.6 133.5M132.9 170.5Q133.4 165.9 134.1 164.6M97.2 152.7Q99.2 157.3 101.2 158.4M143.4 151.4Q143.8 152.1 146.2 154.2M107.8 127.7Q109.0 127.5 112.2 125.7M146.2 120.7Q148.9 119.6 149.8 119.8" stroke="#2256a6" stroke-width="0.85"/>
<path d="M95.5 153.7Q98.3 153.6 99.6 152.2M106.6 169.1Q108.8 168.2 109.5 168.6M113.5 149.0Q117.5 151.3 118.8 151.3M99.5 121.8Q101.8 125.9 101.4 128.0M115.4 128.4Q115.9 124.5 119.3 123.1M100.8 123.2Q102.3 125.5 103.3 129.4M133.7 153.8Q135.2 151.0 140.4 152.3M88.6 123.5Q88.0 125.7 90.3 127.9M95.5 121.5Q97.1 122.8 97.8 125.5M119.6 115.4Q121.7 117.6 123.5 117.8M148.7 153.1Q151.3 154.3 151.2 157.4" stroke="#c8b0dc" stroke-width="0.85"/>
<path d="M142.6 130.7Q142.2 127.5 145.0 125.9M110.1 150.0Q112.2 149.1 114.5 150.0M146.1 151.8Q148.1 150.3 149.2 148.9M99.9 137.5Q100.8 138.9 104.3 137.8M151.3 143.6Q153.2 142.4 153.3 140.5M134.3 152.8Q134.8 154.3 135.4 154.8M152.0 142.5Q153.4 145.1 154.7 145.7M143.7 152.4Q146.0 152.6 147.8 152.9" stroke="#b6daf4" stroke-width="0.85"/>
<path d="M138.4 151.6Q138.8 152.2 141.1 153.4M141.5 165.0Q144.2 168.5 143.6 171.2M144.0 134.8Q146.1 133.8 147.6 132.5M138.2 145.3Q139.7 147.0 138.9 150.9M115.1 161.9Q117.1 162.4 120.0 160.3M134.8 142.9Q133.8 144.8 134.9 148.2M112.8 167.3Q113.2 167.6 114.6 168.7M145.4 168.1Q149.3 170.8 149.6 172.8M100.7 153.5Q101.3 150.8 100.7 149.9M98.6 159.7Q101.9 160.0 104.6 157.5M110.5 132.6Q112.6 132.4 113.9 133.3M145.4 130.7Q146.0 127.4 145.7 126.5M93.8 174.4Q92.0 177.7 94.0 181.0M102.8 127.5Q106.2 125.7 107.5 125.3M148.9 119.6Q149.3 118.4 150.0 116.5M125.9 164.6Q128.4 164.4 130.1 165.3M91.8 141.4Q95.8 140.2 98.3 143.0M127.7 149.2Q130.2 145.8 131.6 145.4M112.2 168.9Q112.5 166.7 112.4 163.5M112.8 139.8Q112.6 138.2 113.3 137.1M122.0 113.6Q122.4 112.4 124.5 109.2M84.8 161.3Q86.7 161.5 90.8 162.7" stroke="#2256a6" stroke-width="1.20"/>
<path d="M129.4 137.7Q131.9 135.9 133.9 135.3M129.2 126.3Q131.9 129.3 134.3 129.5M129.6 115.2Q130.5 115.3 131.6 115.7M119.5 138.3Q122.6 136.8 123.3 134.3M132.2 141.6Q134.8 141.0 138.4 143.2M146.0 146.5Q146.9 147.8 149.0 149.9M116.6 175.5Q116.1 174.2 118.2 171.1M145.0 168.3Q146.1 167.3 147.4 167.3M115.3 121.5Q115.6 120.6 116.0 119.0M98.0 126.9Q99.9 124.7 104.4 124.3M112.8 142.7Q116.7 143.0 117.8 146.9M115.2 116.3Q117.2 117.0 118.6 116.9" stroke="#5aa0dc" stroke-width="0.85"/>
<path d="M125.1 145.0Q126.1 143.9 125.1 141.2M131.6 153.5Q132.3 153.3 133.9 154.4M96.3 152.5Q96.3 153.3 97.2 155.4M97.6 167.0Q98.2 166.7 99.7 167.7M98.2 130.0Q98.7 131.2 99.6 131.7M139.1 116.9Q141.3 116.9 143.6 118.3M116.4 151.4Q116.1 148.6 118.3 147.7M113.2 116.0Q115.0 115.2 114.5 111.6M111.0 170.5Q113.4 169.1 115.9 170.3" stroke="#2a66b8" stroke-width="0.85"/>
<path d="M95.2 125.7Q97.4 127.6 100.2 126.4M144.8 163.3Q146.1 161.9 148.1 161.2M145.0 145.9Q145.0 150.2 146.1 151.7M119.5 121.2Q121.7 119.4 123.8 119.0M110.9 121.9Q111.4 121.2 112.8 119.7M113.2 117.6Q114.2 116.5 115.2 116.6M153.5 155.0Q154.1 151.9 155.5 151.0M130.4 130.7Q132.6 128.5 136.8 128.7M143.3 131.4Q143.4 127.2 144.0 126.1M85.7 176.9Q86.1 179.1 87.4 180.1M95.2 173.7Q98.3 174.9 101.6 174.5M107.1 166.5Q109.4 165.6 114.1 166.5" stroke="#7fb8e6" stroke-width="0.85"/>
<path d="M129.3 153.9Q130.4 157.3 129.3 159.5M128.4 176.1Q129.2 174.7 130.6 174.7M150.5 127.9Q152.5 128.3 156.8 125.3M127.9 130.3Q129.6 131.9 130.0 132.2M129.6 134.6Q131.8 137.2 131.9 140.5M123.3 161.6Q125.1 161.1 127.6 163.2M135.8 121.1Q136.6 119.6 135.8 115.7M102.7 170.8Q103.0 170.2 104.2 169.4M143.3 117.5Q143.4 118.5 143.7 119.7M92.3 139.1Q92.7 137.0 94.0 136.1M107.6 136.6Q111.2 135.5 112.8 135.8M131.3 164.1Q132.8 166.6 134.6 167.7M123.6 175.5Q125.8 175.0 126.9 176.6M115.2 170.9Q116.1 171.3 115.9 172.8M119.7 121.5Q119.9 120.4 121.3 119.4" stroke="#2256a6" stroke-width="0.50"/>
<path d="M148.4 142.9Q150.0 142.6 153.0 144.4M100.1 123.2Q100.4 124.8 101.0 125.3M121.1 132.9Q123.4 132.1 123.9 129.4M128.5 140.1Q127.7 137.4 129.9 133.7M119.1 122.4Q122.6 123.9 124.8 124.0M99.8 129.8Q103.6 130.7 104.6 132.0M122.9 115.5Q123.9 118.3 123.1 119.2M102.8 167.6Q103.3 166.5 105.0 166.8M115.9 127.7Q116.6 126.8 118.1 125.2M96.0 171.7Q96.9 175.2 101.0 175.7M87.5 163.9Q88.3 163.6 90.7 162.9M94.0 148.1Q95.7 149.6 97.3 150.5" stroke="#b6daf4" stroke-width="0.50"/>
<path d="M88.8 130.8Q91.4 130.0 94.4 129.8M99.0 127.3Q101.0 129.5 102.0 130.6M117.7 158.2Q120.4 157.0 119.9 153.5M100.7 131.0Q101.8 130.8 103.5 131.7M148.8 122.0Q153.0 120.8 154.4 120.2M99.3 165.1Q99.9 163.9 100.0 162.4M108.3 168.0Q109.4 167.1 110.9 166.4M94.1 149.2Q96.2 147.2 95.0 143.4M92.3 113.8Q96.4 114.6 98.1 113.2M116.6 176.2Q116.7 177.5 118.2 178.2" stroke="#5aa0dc" stroke-width="0.50"/>
<path d="M92.7 156.5Q95.7 154.7 98.2 152.8M141.4 118.9Q143.3 116.2 143.0 115.5M121.2 157.0Q122.4 154.8 125.6 153.7M90.0 176.8Q91.1 178.2 91.1 180.5M151.3 142.6Q152.8 141.3 152.5 139.7M102.6 153.0Q104.1 155.9 106.1 157.0M90.9 130.8Q92.0 130.2 94.6 130.2M92.2 138.7Q94.1 139.0 97.1 137.3M129.0 118.0Q130.9 117.8 131.5 115.3" stroke="#7fb8e6" stroke-width="1.20"/>
<path d="M118.0 137.1Q120.1 139.9 120.0 142.0M136.9 165.8Q138.4 163.7 138.1 162.6M109.4 166.4Q113.2 167.2 114.8 169.4M146.7 122.8Q150.0 123.5 153.1 123.1M129.9 151.8Q130.4 148.6 131.1 147.0M107.1 137.2Q109.0 136.6 110.3 136.2M146.3 129.8Q145.5 132.8 147.8 135.9M95.7 151.0Q97.6 151.5 99.6 152.7M121.2 173.4Q124.6 171.1 128.0 172.0M127.2 140.4Q130.0 142.4 130.4 143.5M90.7 143.6Q93.5 143.0 97.5 143.8M129.1 165.5Q130.7 167.2 134.4 169.0M134.2 165.5Q136.4 167.0 137.7 166.9M126.3 173.8Q128.4 176.3 130.7 176.1M103.6 150.2Q105.2 148.9 107.2 149.9M119.2 117.5Q120.2 115.8 119.3 114.2M118.7 130.6Q120.6 127.9 121.3 126.6M149.5 123.7Q150.4 124.2 150.8 126.4M108.1 164.8Q109.4 161.3 108.7 158.3M107.5 173.2Q109.5 172.3 110.5 172.9M115.5 163.1Q117.5 163.4 122.0 163.6" stroke="#2a66b8" stroke-width="1.20"/>
<path d="M118.7 120.8Q119.2 122.7 120.4 123.2M110.2 118.4Q111.2 117.8 112.6 117.0M118.4 145.1Q118.3 148.2 118.4 151.7M111.4 124.3Q111.4 125.9 111.9 126.8M110.6 134.4Q110.6 136.2 112.4 137.9M120.9 151.7Q124.5 148.5 125.3 148.4M97.9 131.8Q101.5 129.2 102.4 127.7M88.2 125.6Q90.6 128.8 92.5 130.1M85.0 120.2Q85.4 119.5 86.8 117.4" stroke="#c8b0dc" stroke-width="1.20"/>
</g>
<path d="M95 129 Q98 124.5 104 124.5 Q109.5 125 110 129 Q108 133.5 103 134 Q97 134 95 129 Z" fill="#4f94d8" stroke="#1d4ea2" stroke-width="1.6" stroke-linecap="round" stroke-linejoin="round" filter="url(#bl2)" opacity="0.85"/>
<path d="M98 129 Q102 127 107 128.5" fill="none" stroke="#a4d0f0" stroke-width="1.0" stroke-linecap="round" stroke-linejoin="round" filter="url(#bl3)" opacity="0.8"/>
<path d="M110.5 130 Q114 126.5 120 127 Q127 127.5 128.5 131.5 Q126 137 120 137.5 Q113 136.5 110.5 130 Z" fill="#4a8ed4" stroke="#1d4ea2" stroke-width="1.5" stroke-linecap="round" stroke-linejoin="round" filter="url(#bl2)" opacity="0.8"/>
<path d="M114 131.5 Q119 130 125 132" fill="none" stroke="#9ccaf0" stroke-width="1.0" stroke-linecap="round" stroke-linejoin="round" filter="url(#bl3)" opacity="0.8"/>
<path d="M99.5 149 Q102 143.5 108 144 Q113.5 146 113.5 152 Q112 159.5 106 160.5 Q99.5 158 99.5 149 Z" fill="#4488d0" stroke="#1a479c" stroke-width="2.0" stroke-linecap="round" stroke-linejoin="round" filter="url(#bl2)" opacity="0.9"/>
<path d="M102.5 151 Q104 147.5 108 148 Q110.5 150 110 154 Q108 157 105 156.5 Q102.5 155 102.5 151 Z" fill="none" stroke="#8cc2ec" stroke-width="1.0" stroke-linecap="round" stroke-linejoin="round" filter="url(#bl3)" opacity="0.8"/>
<path d="M134.5 143 Q138 137 144 137.5 Q150 139 151 146 Q151 154 146 157 Q139 157 136 151 Z" fill="#4c90d6" stroke="#1d4ea2" stroke-width="1.5" stroke-linecap="round" stroke-linejoin="round" filter="url(#bl2)" opacity="0.8"/>
<path d="M139 146 Q143 141.5 147 145 Q148 151 144 153.5" fill="none" stroke="#a0ccf0" stroke-width="1.1" stroke-linecap="round" stroke-linejoin="round" filter="url(#bl3)" opacity="0.85"/>
<path d="M86 144 Q92 147 93 154 Q91 162 93 168 Q95 172 94 176" fill="none" stroke="#1d4ea2" stroke-width="1.4" stroke-linecap="round" stroke-linejoin="round" filter="url(#bl2)" opacity="0.8"/>
<path d="M86 150 Q89 154 88 160 Q87 166 89 172" fill="none" stroke="#8cc0ea" stroke-width="1.0" stroke-linecap="round" stroke-linejoin="round" filter="url(#bl3)" opacity="0.8"/>
<path d="M125 161 Q132 157.5 137 163 Q138 171 131 174 Q125 172 125 161 Z" fill="none" stroke="#1d4ea2" stroke-width="1.2" stroke-linecap="round" stroke-linejoin="round" filter="url(#bl2)" opacity="0.7"/>
<path d="M142 160 Q148 158 151 164 Q151 172 146 175" fill="none" stroke="#1d4ea2" stroke-width="1.2" stroke-linecap="round" stroke-linejoin="round" filter="url(#bl2)" opacity="0.7"/>
<path d="M108 166 Q114 163 119 168 Q118 175 112 176" fill="none" stroke="#1d4ea2" stroke-width="1.1" stroke-linecap="round" stroke-linejoin="round" filter="url(#bl2)" opacity="0.65"/>
<path d="M132 120 Q140 117 148 121 Q152 126 150 131" fill="none" stroke="#1d4ea2" stroke-width="1.2" stroke-linecap="round" stroke-linejoin="round" filter="url(#bl2)" opacity="0.7"/>
<path d="M119.5 123.5 L127 117.5 L130 124 Z" fill="#ffffff" stroke="#ffffff" stroke-width="1.6" stroke-linecap="round" stroke-linejoin="round" filter="url(#bl3)" opacity="1"/>
<path d="M121 129.5 L130 128.5" fill="none" stroke="#ffffff" stroke-width="1.5" stroke-linecap="round" stroke-linejoin="round" filter="url(#bl3)" opacity="1"/>
<path d="M113 119 L118 117" fill="none" stroke="#e8f2fb" stroke-width="1.2" stroke-linecap="round" stroke-linejoin="round" filter="url(#bl3)" opacity="1"/>
<path d="M140 121 L147 118" fill="none" stroke="#d8ecfa" stroke-width="1.2" stroke-linecap="round" stroke-linejoin="round" filter="url(#bl3)" opacity="1"/>
<path d="M126 134.5 L134 131" fill="none" stroke="#e4ecf8" stroke-width="1.1" stroke-linecap="round" stroke-linejoin="round" filter="url(#bl3)" opacity="1"/>
<ellipse cx="106.5" cy="152" rx="3" ry="2.3" fill="#eef6fc" filter="url(#bl3)" opacity="1"/>
<ellipse cx="108" cy="152.4" rx="1.2" ry="0.9" fill="#123a88" filter="url(#bl3)" opacity="1"/>
<rect x="84" y="113" width="70" height="65" fill="#2a62b4" filter="url(#gr1)" opacity="0.4"/>
<rect x="84" y="113" width="70" height="65" fill="#c4e2f6" filter="url(#gr2)" opacity="0.4"/>
</g>
<g clip-path="url(#c4)">
<rect x="153" y="113" width="70" height="65" fill="#6787bc"/>
<rect x="153" y="113" width="70" height="65" fill="#4e6ea8" filter="url(#lo1)" opacity="0.65"/>
<rect x="153" y="113" width="70" height="65" fill="#86a2d0" filter="url(#lo2)" opacity="0.5"/>
<ellipse cx="160" cy="160" rx="7" ry="13" fill="#7c9aca" filter="url(#bl1)" opacity="0.8"/>
<ellipse cx="216" cy="160" rx="6" ry="12" fill="#7494c8" filter="url(#bl1)" opacity="0.8"/>
<g fill="none" stroke-linecap="round" opacity="0.5" filter="url(#bl3)">
<path d="M178.3 144.2Q179.9 143.5 180.8 143.6M163.8 132.8Q165.0 132.6 165.5 132.6M204.6 128.7Q205.1 129.2 206.4 129.6M175.5 139.3Q178.2 137.8 178.9 137.9M182.3 175.2Q183.1 177.7 182.7 179.0M204.3 151.8Q205.1 151.4 206.3 152.0M210.5 150.1Q211.6 151.2 211.7 151.6M179.3 139.8Q179.0 138.1 179.4 136.8M186.2 130.3Q187.1 130.6 188.4 131.8M172.8 129.5Q172.7 131.2 174.3 132.9M159.4 174.6Q159.9 172.3 160.3 171.7M174.4 176.1Q176.4 174.9 176.8 175.0M169.9 132.5Q170.3 135.0 170.7 135.7M220.8 171.6Q221.1 170.2 221.0 169.6M208.2 162.9Q208.6 164.3 210.0 164.8M167.6 130.6Q169.2 128.2 169.6 127.4" stroke="#b4c8e6" stroke-width="0.90"/>
<path d="M168.6 132.3Q168.5 133.1 170.3 134.9M195.2 114.3Q195.8 113.2 196.6 111.7M173.7 127.6Q174.6 127.0 175.5 126.4M213.5 113.9Q214.9 114.5 215.1 116.8M217.3 119.8Q217.8 119.0 218.4 117.6M206.4 177.4Q206.2 175.9 207.5 174.5M220.6 123.9Q221.1 125.4 221.3 125.8M195.4 118.2Q197.4 118.4 198.0 118.5M154.6 170.5Q155.7 171.4 157.1 172.4M154.7 176.6Q155.9 176.7 157.0 175.4M168.3 118.2Q169.0 117.7 170.3 116.9M219.8 165.0Q220.1 166.6 221.3 166.9M206.5 161.4Q208.1 160.1 210.1 160.4M198.4 166.1Q198.7 167.2 200.0 167.9M183.0 137.9Q184.0 139.2 184.0 139.8M184.3 163.0Q184.5 164.9 185.7 166.5M218.0 136.7Q219.4 137.7 221.4 138.3M206.6 118.8Q207.0 116.8 206.8 116.3M171.4 122.0Q171.9 119.7 173.3 118.9M184.4 159.1Q184.5 158.7 185.5 157.9M200.2 123.9Q199.7 122.0 201.1 120.6M221.8 166.1Q223.3 165.1 222.9 163.1M221.6 144.6Q222.3 146.6 223.3 147.2M173.3 116.3Q174.5 116.6 175.6 116.6M205.6 168.8Q207.0 169.1 208.6 167.9M222.8 115.8Q222.4 115.0 223.3 113.5M163.2 168.3Q163.8 169.1 164.5 169.0M159.3 159.1Q159.5 160.1 160.2 160.3M153.9 121.2Q154.6 119.7 154.1 118.0M179.7 118.8Q180.4 119.3 180.0 120.7M156.0 177.7Q158.4 179.4 159.3 179.4" stroke="#4e70ac" stroke-width="0.68"/>
<path d="M165.1 149.6Q166.2 149.5 167.2 150.1M181.0 133.8Q182.5 134.3 184.9 133.9M182.9 114.4Q184.1 114.2 184.7 113.1M167.2 141.4Q167.8 140.3 168.2 139.9M178.5 127.0Q180.1 127.3 181.6 128.6M213.5 138.8Q214.4 137.7 214.5 136.9M209.5 116.6Q210.2 116.3 210.1 115.0M207.5 152.8Q208.5 152.5 209.7 152.8M217.5 167.2Q218.5 166.4 219.0 166.2M187.3 125.4Q188.0 124.9 188.9 125.2M179.8 160.6Q180.7 161.4 182.5 161.4M172.4 168.4Q173.7 169.0 174.1 170.5M163.9 116.1Q164.6 114.2 166.7 113.8M179.4 142.8Q180.7 143.7 183.2 143.0M212.0 162.6Q212.7 162.9 213.2 164.1M179.2 136.3Q180.9 136.2 182.8 138.1M223.0 140.6Q223.2 139.9 224.3 139.4M180.3 172.5Q180.7 172.4 182.0 172.5M191.6 145.2Q192.4 147.9 193.6 148.4M186.7 143.4Q187.2 145.1 188.2 146.2M185.0 171.7Q187.0 170.1 188.0 169.3M183.8 152.8Q185.8 153.0 186.6 152.6M158.6 129.9Q158.8 131.4 160.4 131.9M202.2 138.3Q203.9 138.7 205.8 137.3M177.9 177.5Q179.3 177.1 179.3 175.1M212.7 116.7Q213.7 117.6 213.1 119.7" stroke="#4e70ac" stroke-width="0.45"/>
<path d="M198.8 175.9Q200.4 177.4 201.8 178.2M203.8 123.3Q204.5 122.5 204.8 122.0M211.2 176.0Q211.8 177.6 212.9 178.9M199.4 177.7Q200.2 176.6 201.9 176.1M196.0 131.1Q197.1 131.1 197.8 131.5M199.0 124.9Q200.2 125.3 200.6 124.7M203.9 139.4Q204.2 140.4 205.4 141.9M213.1 121.1Q214.1 120.2 215.2 118.7M174.8 114.2Q174.3 116.0 175.4 117.2M192.9 160.5Q195.1 161.2 196.6 161.4M177.3 139.9Q178.7 138.9 179.3 137.0M169.0 135.0Q169.3 134.2 169.2 131.9" stroke="#92aed8" stroke-width="0.45"/>
<path d="M190.9 128.8Q191.9 129.0 192.5 128.3M171.9 154.6Q173.1 154.0 173.4 154.0M163.9 125.1Q166.4 125.1 167.1 126.3M210.9 126.8Q211.9 126.8 214.3 125.5M199.8 135.2Q200.5 134.9 202.3 135.3M181.8 167.7Q181.0 165.1 182.4 164.0M211.5 127.2Q211.1 127.9 211.8 129.9M196.9 141.1Q197.6 139.6 197.8 139.3M160.9 125.4Q161.4 127.2 163.2 127.4M184.2 142.0Q184.8 142.7 186.7 143.0M160.1 138.2Q160.1 136.8 160.8 136.6M153.9 113.1Q154.9 114.3 157.1 114.2M172.9 166.8Q173.4 166.3 175.0 164.2M177.4 127.2Q178.7 127.9 179.7 128.9M172.0 126.2Q172.6 125.6 173.6 126.0M191.2 155.2Q191.1 154.7 192.4 152.8M167.0 136.1Q168.3 135.3 169.4 134.9M154.8 161.7Q156.5 161.7 157.0 161.7M177.9 144.2Q179.1 144.6 180.9 144.9M212.1 170.6Q212.6 171.9 213.3 174.0M192.8 139.0Q193.7 139.5 194.5 139.1M178.7 137.5Q179.3 138.9 179.8 139.2M159.7 170.2Q160.5 169.0 163.3 169.3M166.9 138.7Q167.3 137.8 167.0 137.2M219.3 175.0Q221.0 175.2 222.0 174.4M197.7 166.2Q198.0 166.5 199.2 168.0M205.6 118.9Q207.5 117.8 207.6 116.1M201.6 142.7Q202.3 143.0 203.1 143.4M211.3 151.8Q211.7 154.2 211.8 154.7" stroke="#4e70ac" stroke-width="0.90"/>
<path d="M206.6 123.0Q206.9 123.4 208.5 123.9M209.3 176.1Q210.6 176.3 212.0 175.8M209.4 147.8Q209.0 148.9 210.4 151.0M191.7 160.9Q192.8 160.7 195.4 161.6M195.9 156.8Q197.7 156.2 198.2 155.1M210.0 135.4Q212.5 136.0 213.4 134.9M219.1 122.6Q219.8 120.8 222.4 120.8M163.5 152.9Q163.4 153.8 164.3 155.4M170.4 149.9Q170.9 150.0 171.9 150.0M203.7 123.4Q204.6 123.8 205.5 123.8M205.7 155.4Q206.0 155.8 207.1 156.3M184.0 125.4Q184.6 125.8 185.5 127.6M183.9 135.6Q183.9 133.8 184.8 132.8" stroke="#587ab4" stroke-width="0.90"/>
<path d="M185.3 115.5Q185.2 114.9 185.4 113.6M208.2 153.8Q209.0 154.3 211.8 154.3M165.1 125.3Q165.9 124.8 165.8 123.0M180.2 136.5Q180.6 135.9 181.4 135.1M216.1 173.6Q216.5 172.8 217.5 171.0M214.1 170.6Q214.9 169.8 216.2 169.9M157.5 124.0Q157.8 124.7 158.4 125.2M162.3 153.4Q164.2 153.6 164.9 154.0M164.8 144.2Q164.7 145.4 165.3 148.1M172.0 152.8Q172.5 152.0 173.7 150.4M215.0 165.6Q215.4 167.5 215.5 168.2M170.1 142.1Q171.5 141.8 173.9 143.1M206.2 158.7Q206.9 159.4 208.3 159.6M155.3 154.2Q154.8 155.1 155.6 157.4M157.5 171.5Q158.5 170.7 159.1 170.0M180.1 169.4Q180.2 170.4 181.2 173.0M179.5 153.8Q181.9 153.8 182.6 152.5M196.4 117.7Q198.1 118.8 199.3 118.4" stroke="#92aed8" stroke-width="0.90"/>
<path d="M161.0 154.1Q161.6 153.9 163.0 152.5M187.0 115.3Q187.0 118.1 187.2 118.9M185.1 174.4Q185.4 175.8 187.3 176.8M172.3 146.6Q173.4 146.2 174.0 146.3M206.2 137.3Q206.8 135.0 208.2 134.5M184.2 129.7Q185.4 127.9 186.5 127.5M175.7 140.6Q176.9 138.5 177.5 137.7M178.7 149.6Q179.6 152.2 179.9 153.0M193.9 128.4Q194.0 128.8 195.1 129.5M194.2 138.0Q195.6 136.1 196.4 135.6M191.2 130.5Q191.8 130.7 193.2 129.9M202.1 115.8Q202.2 117.4 204.0 118.8M204.9 172.9Q205.3 172.0 205.3 170.3M191.5 142.5Q193.4 142.7 193.8 141.6" stroke="#587ab4" stroke-width="0.68"/>
<path d="M214.3 141.1Q215.4 140.0 215.6 139.6M220.8 122.6Q222.7 124.3 223.9 124.1M179.1 134.7Q180.9 133.2 181.6 132.8M202.6 134.0Q203.3 134.2 204.5 133.1M202.9 174.6Q203.9 174.3 205.1 173.7M183.4 157.2Q185.8 156.0 186.5 155.3M155.6 163.7Q156.2 163.9 156.9 164.4M185.1 157.8Q186.7 158.0 188.7 159.5M165.4 132.5Q166.5 132.0 167.0 131.0M162.6 156.7Q164.0 156.8 165.4 157.9M175.7 113.6Q176.4 114.1 178.7 113.3" stroke="#b4c8e6" stroke-width="0.45"/>
<path d="M205.9 146.4Q206.5 146.0 207.6 146.5M166.4 126.6Q166.5 125.6 166.4 125.1M198.7 158.3Q198.7 159.7 199.3 160.6M210.7 131.8Q211.7 130.9 213.8 131.1M156.8 176.6Q157.7 175.7 159.5 176.3M171.6 167.8Q172.3 167.7 173.3 167.7M173.1 115.0Q174.7 115.1 175.2 115.5M189.6 166.0Q190.0 165.5 191.4 164.1M187.3 176.6Q188.3 176.2 188.3 175.0M178.9 115.8Q178.6 115.0 179.0 111.9M163.7 144.5Q165.1 144.3 167.6 144.5M200.0 129.4Q202.2 129.8 202.9 128.9M200.2 125.1Q201.0 126.0 201.5 127.2M219.0 120.4Q220.1 120.7 221.0 121.2M175.7 115.4Q176.8 116.5 178.7 117.5M194.9 168.6Q196.1 166.1 197.1 165.3" stroke="#92aed8" stroke-width="0.68"/>
<path d="M171.1 152.7Q172.2 152.8 173.4 153.4M219.7 164.1Q220.2 163.2 219.8 162.3M159.7 146.0Q160.4 145.7 163.4 147.4M163.9 166.2Q164.9 167.2 166.4 166.9" stroke="#b4c8e6" stroke-width="0.68"/>
<path d="M202.5 148.8Q202.5 150.4 204.2 152.0M218.0 152.6Q218.7 152.6 219.7 151.4M159.2 122.2Q159.5 121.1 160.7 120.7M175.5 133.1Q177.9 133.7 178.3 135.1M179.1 147.3Q180.0 148.0 180.2 149.2M184.6 164.7Q185.5 163.6 185.9 161.3M185.5 140.2Q186.2 139.9 187.5 139.3M215.3 144.3Q216.4 144.3 217.2 145.3M171.1 140.4Q171.3 139.0 171.2 137.5M180.5 132.1Q182.2 134.1 182.7 134.7" stroke="#587ab4" stroke-width="0.45"/>
</g>
<path d="M189 127.5 Q189 136 185 141 Q182.5 144.5 180.5 146" fill="none" stroke="#ffffff" stroke-width="1.6" stroke-linecap="round" stroke-linejoin="round" filter="url(#bl3)" opacity="1"/>
<path d="M186 139 Q183.5 143.5 180.5 146" fill="none" stroke="#ffffff" stroke-width="2.4" stroke-linecap="round" stroke-linejoin="round" filter="url(#bl3)" opacity="1"/>
<path d="M165 151 L168 148.5 L172 146.5" fill="none" stroke="#ffffff" stroke-width="2.2" stroke-linecap="round" stroke-linejoin="round" filter="url(#bl3)" opacity="1"/>
<path d="M167 146 L170 144" fill="none" stroke="#f4f6fc" stroke-width="1.4" stroke-linecap="round" stroke-linejoin="round" filter="url(#bl3)" opacity="1"/>
<path d="M174 148 L177 151 L180 150 L183 153" fill="none" stroke="#f8fafd" stroke-width="2.0" stroke-linecap="round" stroke-linejoin="round" filter="url(#bl3)" opacity="1"/>
<path d="M178 146 L181 148" fill="none" stroke="#1e3f88" stroke-width="1.2" stroke-linecap="round" stroke-linejoin="round" filter="url(#bl3)" opacity="0.7"/>
<path d="M184 151.5 Q188 153 191 150 Q195 148 198 150" fill="none" stroke="#ffffff" stroke-width="2.4" stroke-linecap="round" stroke-linejoin="round" filter="url(#bl3)" opacity="1"/>
<path d="M189 155 L193 153 L197 155" fill="none" stroke="#f4f6fc" stroke-width="1.8" stroke-linecap="round" stroke-linejoin="round" filter="url(#bl3)" opacity="1"/>
<path d="M199 150 Q203 150 206 147 L211 145" fill="none" stroke="#ffffff" stroke-width="2.4" stroke-linecap="round" stroke-linejoin="round" filter="url(#bl3)" opacity="1"/>
<path d="M211 145.5 L215 142.5 L219 141" fill="none" stroke="#ffffff" stroke-width="2.0" stroke-linecap="round" stroke-linejoin="round" filter="url(#bl3)" opacity="1"/>
<path d="M203.5 134 Q204 139 206.5 142" fill="none" stroke="#ffffff" stroke-width="1.5" stroke-linecap="round" stroke-linejoin="round" filter="url(#bl3)" opacity="1"/>
<path d="M208.5 129 L209.5 139" fill="none" stroke="#f2f5fb" stroke-width="1.3" stroke-linecap="round" stroke-linejoin="round" filter="url(#bl3)" opacity="1"/>
<path d="M212.5 131 Q212 135 213.5 139" fill="none" stroke="#f2f5fb" stroke-width="1.2" stroke-linecap="round" stroke-linejoin="round" filter="url(#bl3)" opacity="1"/>
<path d="M217 128 L216.5 134" fill="none" stroke="#e8eef8" stroke-width="1.0" stroke-linecap="round" stroke-linejoin="round" filter="url(#bl3)" opacity="1"/>
<path d="M219 134 L220.5 137" fill="none" stroke="#f4f6fc" stroke-width="1.4" stroke-linecap="round" stroke-linejoin="round" filter="url(#bl3)" opacity="1"/>
<path d="M190 157 L196 159" fill="none" stroke="#eef2fa" stroke-width="1.3" stroke-linecap="round" stroke-linejoin="round" filter="url(#bl3)" opacity="1"/>
<path d="M176 143 L180 139" fill="none" stroke="#e6ecf8" stroke-width="1.0" stroke-linecap="round" stroke-linejoin="round" filter="url(#bl3)" opacity="1"/>
<path d="M171 155 L174 158" fill="none" stroke="#e0e8f6" stroke-width="1.0" stroke-linecap="round" stroke-linejoin="round" filter="url(#bl3)" opacity="1"/>
<path d="M182 156 L185 159" fill="none" stroke="#dfe8f6" stroke-width="1.0" stroke-linecap="round" stroke-linejoin="round" filter="url(#bl3)" opacity="1"/>
<ellipse cx="167.5" cy="122.5" rx="1.1" ry="1.4" fill="#ffffff" filter="url(#bl3)" opacity="1"/>
<ellipse cx="159" cy="168" rx="2" ry="1.2" fill="#dfe8f6" filter="url(#bl3)" opacity="1" transform="rotate(20 159 168)"/>
<rect x="153" y="113" width="70" height="65" fill="#4a6cae" filter="url(#gr1)" opacity="0.4"/>
<rect x="153" y="113" width="70" height="65" fill="#c6d6ee" filter="url(#gr2)" opacity="0.35"/>
</g>
<line x1="84" y1="14" x2="84" y2="197" stroke="#000" stroke-width="1.6" stroke-linecap="butt"/>
<line x1="153.2" y1="34" x2="153.2" y2="197" stroke="#000" stroke-width="1.6" stroke-linecap="butt"/>
<line x1="223" y1="14" x2="223" y2="197" stroke="#000" stroke-width="1.6" stroke-linecap="butt"/>
<line x1="51.2" y1="50.3" x2="223.8" y2="50.3" stroke="#000" stroke-width="1.7" stroke-linecap="butt"/>
<line x1="70.4" y1="113.9" x2="223.8" y2="113.9" stroke="#000" stroke-width="1.7" stroke-linecap="butt"/>
<line x1="51.2" y1="178" x2="223.8" y2="178" stroke="#000" stroke-width="1.7" stroke-linecap="butt"/>
<text x="67.3" y="27.3" font-size="6.5" text-anchor="middle" font-weight="normal" font-style="normal">All</text>
<text x="67.3" y="35.5" font-size="6.5" text-anchor="middle" font-weight="normal" font-style="normal">patients</text>
<text x="67.3" y="43.7" font-size="6.5" text-anchor="middle">(<tspan font-style="italic">n</tspan> = 123)</text>
<text x="153.2" y="28.1" font-size="9.2" text-anchor="middle" font-weight="normal" font-style="normal">Stromal lumican</text>
<text x="118" y="45.6" font-size="7.5" text-anchor="middle" font-weight="normal" font-style="normal">Negative</text>
<text x="187" y="45.6" font-size="7.5" text-anchor="middle" font-weight="normal" font-style="normal">Positive</text>
<text x="65.5" y="114.6" font-size="9.25" text-anchor="middle" font-weight="normal" font-style="normal" transform="rotate(-90 65.5 114.6)">PDAC cell lumican</text>
<text x="77.8" y="81.6" font-size="7.5" text-anchor="middle" font-weight="normal" font-style="normal" transform="rotate(-90 77.8 81.6)">Negative</text>
<text x="77.8" y="148" font-size="7.5" text-anchor="middle" font-weight="normal" font-style="normal" transform="rotate(-90 77.8 148)">Positive</text>
<text x="117.5" y="109.7" font-size="7.5" text-anchor="middle" font-weight="normal" font-style="normal">31 (25%)</text>
<text x="187.5" y="109.7" font-size="7.5" text-anchor="middle" font-weight="normal" font-style="normal">30 (24%)</text>
<text x="117.5" y="172.5" font-size="7.5" text-anchor="middle" font-weight="normal" font-style="normal">34 (28%)</text>
<text x="187.5" y="172.5" font-size="7.5" text-anchor="middle" font-weight="normal" font-style="normal">28 (23%)</text>
<text x="117.5" y="191.5" font-size="7.5" text-anchor="middle" font-weight="normal" font-style="normal">65 (53%)</text>
<text x="187.5" y="191.5" font-size="7.5" text-anchor="middle" font-weight="normal" font-style="normal">58 (47%)</text>
<line x1="333.9" y1="40.3" x2="333.9" y2="143.9" stroke="#000" stroke-width="1.3" stroke-linecap="butt"/>
<line x1="333.29999999999995" y1="143.3" x2="503.6" y2="143.3" stroke="#000" stroke-width="1.3" stroke-linecap="butt"/>
<line x1="329.29999999999995" y1="143.3" x2="333.9" y2="143.3" stroke="#000" stroke-width="1.25" stroke-linecap="butt"/>
<text x="327.7" y="146.2" font-size="7.5" text-anchor="end" font-weight="normal" font-style="normal">0</text>
<line x1="329.29999999999995" y1="122.82000000000001" x2="333.9" y2="122.82000000000001" stroke="#000" stroke-width="1.25" stroke-linecap="butt"/>
<text x="327.7" y="125.7" font-size="7.5" text-anchor="end" font-weight="normal" font-style="normal">20</text>
<line x1="329.29999999999995" y1="102.34" x2="333.9" y2="102.34" stroke="#000" stroke-width="1.25" stroke-linecap="butt"/>
<text x="327.7" y="105.2" font-size="7.5" text-anchor="end" font-weight="normal" font-style="normal">40</text>
<line x1="329.29999999999995" y1="81.86000000000001" x2="333.9" y2="81.86000000000001" stroke="#000" stroke-width="1.25" stroke-linecap="butt"/>
<text x="327.7" y="84.8" font-size="7.5" text-anchor="end" font-weight="normal" font-style="normal">60</text>
<line x1="329.29999999999995" y1="61.38000000000001" x2="333.9" y2="61.38000000000001" stroke="#000" stroke-width="1.25" stroke-linecap="butt"/>
<text x="327.7" y="64.3" font-size="7.5" text-anchor="end" font-weight="normal" font-style="normal">80</text>
<line x1="329.29999999999995" y1="40.900000000000006" x2="333.9" y2="40.900000000000006" stroke="#000" stroke-width="1.25" stroke-linecap="butt"/>
<text x="327.7" y="43.8" font-size="7.5" text-anchor="end" font-weight="normal" font-style="normal">100</text>
<line x1="333.9" y1="143.3" x2="333.9" y2="147.10000000000002" stroke="#000" stroke-width="1.2" stroke-linecap="butt"/>
<text x="334.3" y="155.1" font-size="7.5" text-anchor="middle" font-weight="normal" font-style="normal">0</text>
<line x1="374.84999999999997" y1="143.3" x2="374.84999999999997" y2="147.10000000000002" stroke="#000" stroke-width="1.2" stroke-linecap="butt"/>
<text x="375.2" y="155.1" font-size="7.5" text-anchor="middle" font-weight="normal" font-style="normal">60</text>
<line x1="415.79999999999995" y1="143.3" x2="415.79999999999995" y2="147.10000000000002" stroke="#000" stroke-width="1.2" stroke-linecap="butt"/>
<text x="416.2" y="155.1" font-size="7.5" text-anchor="middle" font-weight="normal" font-style="normal">120</text>
<line x1="456.75" y1="143.3" x2="456.75" y2="147.10000000000002" stroke="#000" stroke-width="1.2" stroke-linecap="butt"/>
<text x="457.1" y="155.1" font-size="7.5" text-anchor="middle" font-weight="normal" font-style="normal">180</text>
<line x1="497.7" y1="143.3" x2="497.7" y2="147.10000000000002" stroke="#000" stroke-width="1.2" stroke-linecap="butt"/>
<text x="498.1" y="155.1" font-size="7.5" text-anchor="middle" font-weight="normal" font-style="normal">240</text>
<text x="419.3" y="170.5" font-size="9.3" text-anchor="middle" font-weight="normal" font-style="normal">Time (months)</text>
<line x1="351.9" y1="40.5" x2="366.79999999999995" y2="40.5" stroke="#1f7f52" stroke-width="1.5" stroke-linecap="butt"/>
<line x1="351.9" y1="52.8" x2="366.79999999999995" y2="52.8" stroke="#d8344a" stroke-width="1.5" stroke-linecap="butt"/>
<polygon points="357.90,40.80 358.60,38.50 360.00,38.50 360.70,40.80" fill="#0a0a0a"/>
<polygon points="357.90,53.10 358.60,50.80 360.00,50.80 360.70,53.10" fill="#0a0a0a"/>
<text x="371.6" y="43.8" font-size="8.2" text-anchor="start" font-weight="normal" font-style="normal">Stroma-only lumican</text>
<text x="371.6" y="55.9" font-size="8.2" text-anchor="start" font-weight="normal" font-style="normal">All other subgroups</text>
<text x="461.9" y="43.8" font-size="7.5"><tspan font-style="italic">P</tspan> = 0.0006</text>
<text x="296.9" y="94" font-size="9.2" text-anchor="middle" font-weight="normal" font-style="normal" transform="rotate(-90 296.9 94)">OS</text>
<text x="307.8" y="92" font-size="9.2" text-anchor="middle" font-weight="normal" font-style="normal" transform="rotate(-90 307.8 92)">probability %</text>
<polyline points="334.2,40.7 337.1,40.7 338.6,48.5 341.6,55.3 342.6,62.0 343.3,66.5 343.5,67.4 347.0,67.4 347.0,71.5 349.0,71.5 349.0,74.9 352.3,74.9 352.3,78.5 357.0,78.5 357.0,85.0 368.3,85.0 368.3,88.7 378.4,88.7 378.4,97.0 382.4,97.0 382.4,102.4 383.6,102.4 383.6,106.8 386.8,106.8 386.8,113.0 428.8,113.0 428.8,119.2 467.3,119.2 467.3,142.9" fill="none" stroke="#1f7f52" stroke-width="1.5" stroke-linejoin="miter"/>
<polygon points="361.45,85.20 362.15,83.30 363.45,83.30 364.15,85.20" fill="#0a0a0a"/>
<polygon points="375.05,88.90 375.75,87.00 377.05,87.00 377.75,88.90" fill="#0a0a0a"/>
<polygon points="380.45,97.20 381.15,95.30 382.45,95.30 383.15,97.20" fill="#0a0a0a"/>
<polygon points="410.15,113.20 410.85,111.30 412.15,111.30 412.85,113.20" fill="#0a0a0a"/>
<polygon points="438.55,119.40 439.25,117.50 440.55,117.50 441.25,119.40" fill="#0a0a0a"/>
<polygon points="441.65,119.40 442.35,117.50 443.65,117.50 444.35,119.40" fill="#0a0a0a"/>
<polygon points="459.45,119.40 460.15,117.50 461.45,117.50 462.15,119.40" fill="#0a0a0a"/>
<polygon points="345.70,71.90 346.40,70.30 347.40,70.30 348.10,71.90" fill="#0a0a0a"/>
<polygon points="347.80,75.30 348.50,73.70 349.50,73.70 350.20,75.30" fill="#0a0a0a"/>
<polygon points="351.10,78.90 351.80,77.30 352.80,77.30 353.50,78.90" fill="#0a0a0a"/>
<polygon points="355.80,82.80 356.50,81.20 357.50,81.20 358.20,82.80" fill="#0a0a0a"/>
<polygon points="377.30,93.30 378.00,91.70 379.00,91.70 379.70,93.30" fill="#0a0a0a"/>
<polygon points="381.30,100.80 382.00,99.20 383.00,99.20 383.70,100.80" fill="#0a0a0a"/>
<polygon points="382.50,105.30 383.20,103.70 384.20,103.70 384.90,105.30" fill="#0a0a0a"/>
<polygon points="385.60,110.80 386.30,109.20 387.30,109.20 388.00,110.80" fill="#0a0a0a"/>
<polyline points="334.2,40.7 336.0,40.7 337.6,48.5 340.1,55.3 341.6,62.0 342.5,67.4 343.7,75.5 346.1,87.0 347.1,90.8 350.4,105.0 351.4,112.3 353.5,115.4 356.6,116.4 358.7,120.0 362.9,125.5 375.8,125.8 383.6,133.3 390.6,133.7 394.7,136.9 416.5,137.4 416.5,140.9 467.6,140.9" fill="none" stroke="#e5452e" stroke-width="1.5" stroke-linejoin="miter"/>
<polyline points="334.2,40.7 337.4,40.7" fill="none" stroke="#111" stroke-width="1.3" stroke-linejoin="round"/>
<polyline points="337.1,40.7 338.6,48.5 341.6,55.3 342.6,62.0 343.3,66.5" fill="none" stroke="#111" stroke-width="1.7" stroke-linejoin="round"/>
<polyline points="336.0,40.7 337.6,48.5 340.1,55.3 341.6,62.0 342.5,67.4 343.7,75.5 346.1,87.0 347.1,90.8 350.4,105.0 351.4,112.3 353.5,115.4 356.6,116.4 358.7,120.0 362.9,125.2 366.0,125.2" fill="none" stroke="#111" stroke-width="2.0" stroke-linejoin="round"/>
<polyline points="375.8,125.4 383.6,132.9 385.5,132.9" fill="none" stroke="#111" stroke-width="2.0" stroke-linejoin="round"/>
<polyline points="390.6,133.3 394.7,136.5 397.3,136.5" fill="none" stroke="#111" stroke-width="2.0" stroke-linejoin="round"/>
<polygon points="415.15,137.50 415.85,135.60 417.15,135.60 417.85,137.50" fill="#0a0a0a"/>
<line x1="468.6" y1="141.2" x2="470.4" y2="139.2" stroke="#0a0a0a" stroke-width="1.6" stroke-linecap="butt"/>
<line x1="77.8" y1="236.4" x2="77.8" y2="340.40000000000003" stroke="#000" stroke-width="1.3" stroke-linecap="butt"/>
<line x1="77.2" y1="339.8" x2="248.3" y2="339.8" stroke="#000" stroke-width="1.3" stroke-linecap="butt"/>
<line x1="73.2" y1="339.8" x2="77.8" y2="339.8" stroke="#000" stroke-width="1.25" stroke-linecap="butt"/>
<text x="71.6" y="342.7" font-size="7.5" text-anchor="end" font-weight="normal" font-style="normal">0</text>
<line x1="73.2" y1="319.24" x2="77.8" y2="319.24" stroke="#000" stroke-width="1.25" stroke-linecap="butt"/>
<text x="71.6" y="322.1" font-size="7.5" text-anchor="end" font-weight="normal" font-style="normal">20</text>
<line x1="73.2" y1="298.68" x2="77.8" y2="298.68" stroke="#000" stroke-width="1.25" stroke-linecap="butt"/>
<text x="71.6" y="301.6" font-size="7.5" text-anchor="end" font-weight="normal" font-style="normal">40</text>
<line x1="73.2" y1="278.12" x2="77.8" y2="278.12" stroke="#000" stroke-width="1.25" stroke-linecap="butt"/>
<text x="71.6" y="281.0" font-size="7.5" text-anchor="end" font-weight="normal" font-style="normal">60</text>
<line x1="73.2" y1="257.56" x2="77.8" y2="257.56" stroke="#000" stroke-width="1.25" stroke-linecap="butt"/>
<text x="71.6" y="260.5" font-size="7.5" text-anchor="end" font-weight="normal" font-style="normal">80</text>
<line x1="73.2" y1="237.0" x2="77.8" y2="237.0" stroke="#000" stroke-width="1.25" stroke-linecap="butt"/>
<text x="71.6" y="239.9" font-size="7.5" text-anchor="end" font-weight="normal" font-style="normal">100</text>
<line x1="77.8" y1="339.8" x2="77.8" y2="343.6" stroke="#000" stroke-width="1.2" stroke-linecap="butt"/>
<text x="78.2" y="351.6" font-size="7.5" text-anchor="middle" font-weight="normal" font-style="normal">0</text>
<line x1="118.825" y1="339.8" x2="118.825" y2="343.6" stroke="#000" stroke-width="1.2" stroke-linecap="butt"/>
<text x="119.2" y="351.6" font-size="7.5" text-anchor="middle" font-weight="normal" font-style="normal">60</text>
<line x1="159.85000000000002" y1="339.8" x2="159.85000000000002" y2="343.6" stroke="#000" stroke-width="1.2" stroke-linecap="butt"/>
<text x="160.3" y="351.6" font-size="7.5" text-anchor="middle" font-weight="normal" font-style="normal">120</text>
<line x1="200.875" y1="339.8" x2="200.875" y2="343.6" stroke="#000" stroke-width="1.2" stroke-linecap="butt"/>
<text x="201.3" y="351.6" font-size="7.5" text-anchor="middle" font-weight="normal" font-style="normal">180</text>
<line x1="241.90000000000003" y1="339.8" x2="241.90000000000003" y2="343.6" stroke="#000" stroke-width="1.2" stroke-linecap="butt"/>
<text x="242.3" y="351.6" font-size="7.5" text-anchor="middle" font-weight="normal" font-style="normal">240</text>
<text x="163.4" y="367.0" font-size="9.3" text-anchor="middle" font-weight="normal" font-style="normal">Time (months)</text>
<line x1="95.8" y1="236.0" x2="110.7" y2="236.0" stroke="#1f7f52" stroke-width="1.5" stroke-linecap="butt"/>
<line x1="95.8" y1="248.5" x2="110.7" y2="248.5" stroke="#d8344a" stroke-width="1.5" stroke-linecap="butt"/>
<polygon points="101.80,236.30 102.50,234.00 103.90,234.00 104.60,236.30" fill="#0a0a0a"/>
<polygon points="101.80,248.80 102.50,246.50 103.90,246.50 104.60,248.80" fill="#0a0a0a"/>
<text x="115.9" y="239.8" font-size="8.2" text-anchor="start" font-weight="normal" font-style="normal">Stroma-only lumican</text>
<text x="115.9" y="252.0" font-size="8.2" text-anchor="start" font-weight="normal" font-style="normal">All other subgroups</text>
<text x="206.3" y="239.8" font-size="7.5"><tspan font-style="italic">P</tspan> = 0.003</text>
<text x="41.2" y="291.5" font-size="9.2" text-anchor="middle" font-weight="normal" font-style="normal" transform="rotate(-90 41.2 291.5)">RFS</text>
<text x="51.8" y="292.3" font-size="9.2" text-anchor="middle" font-weight="normal" font-style="normal" transform="rotate(-90 51.8 292.3)">probability %</text>
<polyline points="77.8,237.0 79.6,237.0 81.5,250.6 84.8,261.0 88.6,273.0 89.2,277.5 90.0,282.4 97.7,282.4 97.7,285.9 107.2,285.9 107.2,293.0 110.4,293.0 110.4,296.8 113.6,296.8 113.6,300.6 121.4,300.6 121.4,305.8 212.0,305.8" fill="none" stroke="#1f7f52" stroke-width="1.5" stroke-linejoin="miter"/>
<polyline points="79.6,237.0 81.5,250.6 84.8,261.0 88.6,273.0 89.2,277.5 90.0,282.4" fill="none" stroke="#111" stroke-width="1.7" stroke-dasharray="1.6 1.4"/>
<polygon points="88.85,282.50 89.55,280.60 90.85,280.60 91.55,282.50" fill="#0a0a0a"/>
<polygon points="96.35,286.00 97.05,284.10 98.35,284.10 99.05,286.00" fill="#0a0a0a"/>
<polygon points="104.85,286.00 105.55,284.10 106.85,284.10 107.55,286.00" fill="#0a0a0a"/>
<polygon points="106.05,293.10 106.75,291.20 108.05,291.20 108.75,293.10" fill="#0a0a0a"/>
<polygon points="109.25,296.90 109.95,295.00 111.25,295.00 111.95,296.90" fill="#0a0a0a"/>
<polygon points="112.45,300.70 113.15,298.80 114.45,298.80 115.15,300.70" fill="#0a0a0a"/>
<polygon points="119.15,300.70 119.85,298.80 121.15,298.80 121.85,300.70" fill="#0a0a0a"/>
<polygon points="120.25,305.90 120.95,304.00 122.25,304.00 122.95,305.90" fill="#0a0a0a"/>
<polygon points="125.35,305.90 126.05,304.00 127.35,304.00 128.05,305.90" fill="#0a0a0a"/>
<polygon points="154.05,305.90 154.75,304.00 156.05,304.00 156.75,305.90" fill="#0a0a0a"/>
<polygon points="171.05,305.90 171.75,304.00 173.05,304.00 173.75,305.90" fill="#0a0a0a"/>
<polygon points="182.75,305.90 183.45,304.00 184.75,304.00 185.45,305.90" fill="#0a0a0a"/>
<polygon points="185.75,305.90 186.45,304.00 187.75,304.00 188.45,305.90" fill="#0a0a0a"/>
<polygon points="203.05,305.90 203.75,304.00 205.05,304.00 205.75,305.90" fill="#0a0a0a"/>
<polygon points="210.25,305.90 210.95,304.00 212.25,304.00 212.95,305.90" fill="#0a0a0a"/>
<polyline points="77.8,237.0 78.9,238.0 81.2,270.0 83.7,282.5 86.2,300.0 88.7,303.5 90.0,311.2 93.7,315.0 98.1,320.2 105.6,320.6 113.7,326.9 214.4,326.9" fill="none" stroke="#e5452e" stroke-width="1.5" stroke-linejoin="miter"/>
<polyline points="77.8,237.0 79.8,237.0" fill="none" stroke="#111" stroke-width="1.3" stroke-linejoin="round"/>
<polyline points="79.0,237.0 79.8,248.0 81.6,270.0 84.0,282.5 86.5,300.0 88.9,303.3 90.1,311.0 93.7,314.8 98.1,319.8 100.0,319.8" fill="none" stroke="#111" stroke-width="2.2" stroke-linejoin="round"/>
<polyline points="105.6,320.4 113.7,326.6 115.0,326.6" fill="none" stroke="#111" stroke-width="2.0" stroke-linejoin="round"/>
<polygon points="119.85,327.00 120.55,325.10 121.85,325.10 122.55,327.00" fill="#0a0a0a"/>
<polygon points="121.65,327.00 122.35,325.10 123.65,325.10 124.35,327.00" fill="#0a0a0a"/>
<polygon points="126.65,327.00 127.35,325.10 128.65,325.10 129.35,327.00" fill="#0a0a0a"/>
<polygon points="133.55,327.00 134.25,325.10 135.55,325.10 136.25,327.00" fill="#0a0a0a"/>
<polygon points="137.25,327.00 137.95,325.10 139.25,325.10 139.95,327.00" fill="#0a0a0a"/>
<polygon points="158.95,327.00 159.65,325.10 160.95,325.10 161.65,327.00" fill="#0a0a0a"/>
<polygon points="213.25,326.80 213.95,324.90 215.25,324.90 215.95,326.80" fill="#0a0a0a"/>
<line x1="333.9" y1="236.8" x2="333.9" y2="340.40000000000003" stroke="#000" stroke-width="1.3" stroke-linecap="butt"/>
<line x1="333.29999999999995" y1="339.8" x2="503.6" y2="339.8" stroke="#000" stroke-width="1.3" stroke-linecap="butt"/>
<line x1="329.29999999999995" y1="339.8" x2="333.9" y2="339.8" stroke="#000" stroke-width="1.25" stroke-linecap="butt"/>
<text x="327.7" y="342.7" font-size="7.5" text-anchor="end" font-weight="normal" font-style="normal">0</text>
<line x1="329.29999999999995" y1="319.32" x2="333.9" y2="319.32" stroke="#000" stroke-width="1.25" stroke-linecap="butt"/>
<text x="327.7" y="322.2" font-size="7.5" text-anchor="end" font-weight="normal" font-style="normal">20</text>
<line x1="329.29999999999995" y1="298.84000000000003" x2="333.9" y2="298.84000000000003" stroke="#000" stroke-width="1.25" stroke-linecap="butt"/>
<text x="327.7" y="301.7" font-size="7.5" text-anchor="end" font-weight="normal" font-style="normal">40</text>
<line x1="329.29999999999995" y1="278.36" x2="333.9" y2="278.36" stroke="#000" stroke-width="1.25" stroke-linecap="butt"/>
<text x="327.7" y="281.3" font-size="7.5" text-anchor="end" font-weight="normal" font-style="normal">60</text>
<line x1="329.29999999999995" y1="257.88" x2="333.9" y2="257.88" stroke="#000" stroke-width="1.25" stroke-linecap="butt"/>
<text x="327.7" y="260.8" font-size="7.5" text-anchor="end" font-weight="normal" font-style="normal">80</text>
<line x1="329.29999999999995" y1="237.4" x2="333.9" y2="237.4" stroke="#000" stroke-width="1.25" stroke-linecap="butt"/>
<text x="327.7" y="240.3" font-size="7.5" text-anchor="end" font-weight="normal" font-style="normal">100</text>
<line x1="333.9" y1="339.8" x2="333.9" y2="343.6" stroke="#000" stroke-width="1.2" stroke-linecap="butt"/>
<text x="334.3" y="351.6" font-size="7.5" text-anchor="middle" font-weight="normal" font-style="normal">0</text>
<line x1="374.84999999999997" y1="339.8" x2="374.84999999999997" y2="343.6" stroke="#000" stroke-width="1.2" stroke-linecap="butt"/>
<text x="375.2" y="351.6" font-size="7.5" text-anchor="middle" font-weight="normal" font-style="normal">60</text>
<line x1="415.79999999999995" y1="339.8" x2="415.79999999999995" y2="343.6" stroke="#000" stroke-width="1.2" stroke-linecap="butt"/>
<text x="416.2" y="351.6" font-size="7.5" text-anchor="middle" font-weight="normal" font-style="normal">120</text>
<line x1="456.75" y1="339.8" x2="456.75" y2="343.6" stroke="#000" stroke-width="1.2" stroke-linecap="butt"/>
<text x="457.1" y="351.6" font-size="7.5" text-anchor="middle" font-weight="normal" font-style="normal">180</text>
<line x1="497.7" y1="339.8" x2="497.7" y2="343.6" stroke="#000" stroke-width="1.2" stroke-linecap="butt"/>
<text x="498.1" y="351.6" font-size="7.5" text-anchor="middle" font-weight="normal" font-style="normal">240</text>
<text x="419.3" y="367.0" font-size="9.3" text-anchor="middle" font-weight="normal" font-style="normal">Time (months)</text>
<line x1="351.6" y1="236.7" x2="366.5" y2="236.7" stroke="#1f7f52" stroke-width="1.5" stroke-linecap="butt"/>
<line x1="351.6" y1="249.0" x2="366.5" y2="249.0" stroke="#d8344a" stroke-width="1.5" stroke-linecap="butt"/>
<polygon points="357.60,237.00 358.30,234.70 359.70,234.70 360.40,237.00" fill="#0a0a0a"/>
<polygon points="357.60,249.30 358.30,247.00 359.70,247.00 360.40,249.30" fill="#0a0a0a"/>
<text x="371.3" y="239.9" font-size="8.2" text-anchor="start" font-weight="normal" font-style="normal">Stroma-only lumican</text>
<text x="371.3" y="252.4" font-size="8.2" text-anchor="start" font-weight="normal" font-style="normal">All other subgroups</text>
<text x="461.2" y="239.9" font-size="7.5"><tspan font-style="italic">P</tspan> = 0.006</text>
<text x="288.1" y="292.6" font-size="9.2" text-anchor="middle" font-weight="normal" font-style="normal" transform="rotate(-90 288.1 292.6)">Liver-specific</text>
<text x="298.8" y="292.3" font-size="9.2" text-anchor="middle" font-weight="normal" font-style="normal" transform="rotate(-90 298.8 292.3)">RFS</text>
<text x="310.1" y="291.2" font-size="9.2" text-anchor="middle" font-weight="normal" font-style="normal" transform="rotate(-90 310.1 291.2)">probability %</text>
<polyline points="333.8,237.5 334.8,237.5 335.5,240.8 339.8,240.8 341.0,248.8 343.6,249.0 344.8,254.0 353.6,254.3 353.6,259.8 362.3,259.8 362.9,265.5 467.0,265.5" fill="none" stroke="#1f7f52" stroke-width="1.5" stroke-linejoin="miter"/>
<polygon points="337.25,240.70 337.95,238.80 339.25,238.80 339.95,240.70" fill="#0a0a0a"/>
<polygon points="340.95,248.90 341.65,247.00 342.95,247.00 343.65,248.90" fill="#0a0a0a"/>
<polygon points="343.45,253.90 344.15,252.00 345.45,252.00 346.15,253.90" fill="#0a0a0a"/>
<polygon points="360.35,259.70 361.05,257.80 362.35,257.80 363.05,259.70" fill="#0a0a0a"/>
<polygon points="364.65,265.40 365.35,263.50 366.65,263.50 367.35,265.40" fill="#0a0a0a"/>
<polygon points="367.75,265.40 368.45,263.50 369.75,263.50 370.45,265.40" fill="#0a0a0a"/>
<polygon points="375.95,265.40 376.65,263.50 377.95,263.50 378.65,265.40" fill="#0a0a0a"/>
<polygon points="380.25,265.40 380.95,263.50 382.25,263.50 382.95,265.40" fill="#0a0a0a"/>
<polygon points="380.85,265.40 381.55,263.50 382.85,263.50 383.55,265.40" fill="#0a0a0a"/>
<polygon points="409.45,265.40 410.15,263.50 411.45,263.50 412.15,265.40" fill="#0a0a0a"/>
<polygon points="426.45,265.40 427.15,263.50 428.45,263.50 429.15,265.40" fill="#0a0a0a"/>
<polygon points="438.15,265.40 438.85,263.50 440.15,263.50 440.85,265.40" fill="#0a0a0a"/>
<polygon points="441.45,265.40 442.15,263.50 443.45,263.50 444.15,265.40" fill="#0a0a0a"/>
<polygon points="457.75,265.40 458.45,263.50 459.75,263.50 460.45,265.40" fill="#0a0a0a"/>
<polygon points="465.45,265.40 466.15,263.50 467.45,263.50 468.15,265.40" fill="#0a0a0a"/>
<polyline points="333.8,237.5 335.6,245.0 338.0,255.0 340.1,265.0 342.4,275.0 344.4,278.7 345.5,289.3 348.0,290.6 348.6,293.9 361.7,294.3 361.7,297.9 469.5,297.9" fill="none" stroke="#e5452e" stroke-width="1.5" stroke-linejoin="miter"/>
<polyline points="334.5,237.5 335.6,245.0 338.0,255.0 340.1,265.0 342.4,275.0 344.4,278.7 345.5,289.3 348.0,290.6 348.6,293.5 354.2,293.5" fill="none" stroke="#111" stroke-width="2.3" stroke-linejoin="round"/>
<polyline points="361.7,297.5 370.4,297.5" fill="none" stroke="#111" stroke-width="1.8" stroke-linejoin="round"/>
<polygon points="375.65,297.80 376.35,295.90 377.65,295.90 378.35,297.80" fill="#0a0a0a"/>
<polygon points="377.65,297.80 378.35,295.90 379.65,295.90 380.35,297.80" fill="#0a0a0a"/>
<polygon points="381.55,297.80 382.25,295.90 383.55,295.90 384.25,297.80" fill="#0a0a0a"/>
<polygon points="381.95,297.80 382.65,295.90 383.95,295.90 384.65,297.80" fill="#0a0a0a"/>
<polygon points="389.05,297.80 389.75,295.90 391.05,295.90 391.75,297.80" fill="#0a0a0a"/>
<polygon points="392.25,297.80 392.95,295.90 394.25,295.90 394.95,297.80" fill="#0a0a0a"/>
<polygon points="414.65,297.80 415.35,295.90 416.65,295.90 417.35,297.80" fill="#0a0a0a"/>
<polygon points="468.15,297.80 468.85,295.90 470.15,295.90 470.85,297.80" fill="#0a0a0a"/>
<rect x="0" y="0" width="520" height="0.9" fill="#6c6c6c"/>
<rect x="0" y="0" width="0.9" height="385" fill="#6c6c6c"/>
<rect x="518.6" y="0" width="1.4" height="385" fill="#6c6c6c"/>
<rect x="0" y="383.7" width="520" height="1.3" fill="#6c6c6c"/>
</svg>
</body></html>
